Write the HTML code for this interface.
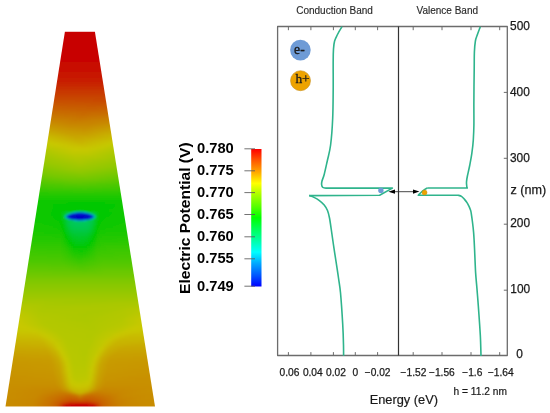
<!DOCTYPE html>
<html><head><meta charset="utf-8"><title>Electric potential and band diagram</title>
<style>
html,body{margin:0;padding:0;background:#fff;}
body{width:550px;height:413px;overflow:hidden;position:relative;}
svg{position:absolute;left:0;top:0;}
.s{font-family:"Liberation Sans",Arial,sans-serif;}
.sf{font-family:"Liberation Serif","Times New Roman",serif;}
</style></head><body>
<svg width="550" height="413" viewBox="0 0 550 413">
<!-- potential map -->
<defs><linearGradient id="g0" gradientUnits="userSpaceOnUse" x1="2" y1="0" x2="158" y2="0"><stop offset="0.000" stop-color="#c84000"/><stop offset="0.949" stop-color="#c83f00"/><stop offset="1.000" stop-color="#c84000"/></linearGradient><linearGradient id="g1" gradientUnits="userSpaceOnUse" x1="2" y1="0" x2="158" y2="0"><stop offset="0.000" stop-color="#c84500"/><stop offset="0.827" stop-color="#c84300"/><stop offset="1.000" stop-color="#c84500"/></linearGradient><linearGradient id="g2" gradientUnits="userSpaceOnUse" x1="2" y1="0" x2="158" y2="0"><stop offset="0.000" stop-color="#c84a00"/><stop offset="0.737" stop-color="#c84700"/><stop offset="1.000" stop-color="#c84a00"/></linearGradient><linearGradient id="g3" gradientUnits="userSpaceOnUse" x1="2" y1="0" x2="158" y2="0"><stop offset="0.000" stop-color="#c85000"/><stop offset="0.667" stop-color="#c84c00"/><stop offset="1.000" stop-color="#c85000"/></linearGradient><linearGradient id="g4" gradientUnits="userSpaceOnUse" x1="2" y1="0" x2="158" y2="0"><stop offset="0.000" stop-color="#c85600"/><stop offset="0.635" stop-color="#c85000"/><stop offset="1.000" stop-color="#c85600"/></linearGradient><linearGradient id="g5" gradientUnits="userSpaceOnUse" x1="2" y1="0" x2="158" y2="0"><stop offset="0.000" stop-color="#c85c00"/><stop offset="0.603" stop-color="#c85500"/><stop offset="1.000" stop-color="#c85c00"/></linearGradient><linearGradient id="g6" gradientUnits="userSpaceOnUse" x1="2" y1="0" x2="158" y2="0"><stop offset="0.000" stop-color="#c86300"/><stop offset="0.577" stop-color="#c85a00"/><stop offset="1.000" stop-color="#c86300"/></linearGradient><linearGradient id="g7" gradientUnits="userSpaceOnUse" x1="2" y1="0" x2="158" y2="0"><stop offset="0.000" stop-color="#c86900"/><stop offset="0.558" stop-color="#c85e00"/><stop offset="1.000" stop-color="#c86900"/></linearGradient><linearGradient id="g8" gradientUnits="userSpaceOnUse" x1="2" y1="0" x2="158" y2="0"><stop offset="0.000" stop-color="#c87000"/><stop offset="0.545" stop-color="#c86300"/><stop offset="1.000" stop-color="#c87000"/></linearGradient><linearGradient id="g9" gradientUnits="userSpaceOnUse" x1="2" y1="0" x2="158" y2="0"><stop offset="0.000" stop-color="#c87700"/><stop offset="0.526" stop-color="#c86800"/><stop offset="1.000" stop-color="#c87700"/></linearGradient><linearGradient id="g10" gradientUnits="userSpaceOnUse" x1="2" y1="0" x2="158" y2="0"><stop offset="0.000" stop-color="#c87f00"/><stop offset="0.519" stop-color="#c86c00"/><stop offset="1.000" stop-color="#c87f00"/></linearGradient><linearGradient id="g11" gradientUnits="userSpaceOnUse" x1="2" y1="0" x2="158" y2="0"><stop offset="0.000" stop-color="#c88700"/><stop offset="0.506" stop-color="#c87100"/><stop offset="1.000" stop-color="#c88700"/></linearGradient><linearGradient id="g12" gradientUnits="userSpaceOnUse" x1="2" y1="0" x2="158" y2="0"><stop offset="0.000" stop-color="#c88f00"/><stop offset="0.500" stop-color="#c87600"/><stop offset="1.000" stop-color="#c88f00"/></linearGradient><linearGradient id="g13" gradientUnits="userSpaceOnUse" x1="2" y1="0" x2="158" y2="0"><stop offset="0.000" stop-color="#c89700"/><stop offset="0.468" stop-color="#c87c00"/><stop offset="0.756" stop-color="#c88600"/><stop offset="1.000" stop-color="#c89700"/></linearGradient><linearGradient id="g14" gradientUnits="userSpaceOnUse" x1="2" y1="0" x2="158" y2="0"><stop offset="0.000" stop-color="#c8a000"/><stop offset="0.436" stop-color="#c88200"/><stop offset="0.577" stop-color="#c88300"/><stop offset="1.000" stop-color="#c8a000"/></linearGradient><linearGradient id="g15" gradientUnits="userSpaceOnUse" x1="2" y1="0" x2="158" y2="0"><stop offset="0.000" stop-color="#c8a900"/><stop offset="0.436" stop-color="#c88700"/><stop offset="0.564" stop-color="#c88700"/><stop offset="1.000" stop-color="#c8a900"/></linearGradient><linearGradient id="g16" gradientUnits="userSpaceOnUse" x1="2" y1="0" x2="158" y2="0"><stop offset="0.000" stop-color="#c8b200"/><stop offset="0.429" stop-color="#c88d00"/><stop offset="0.551" stop-color="#c88c00"/><stop offset="0.968" stop-color="#c8af00"/><stop offset="1.000" stop-color="#c8b200"/></linearGradient><linearGradient id="g17" gradientUnits="userSpaceOnUse" x1="2" y1="0" x2="158" y2="0"><stop offset="0.000" stop-color="#c8bc00"/><stop offset="0.404" stop-color="#c89400"/><stop offset="0.532" stop-color="#c89000"/><stop offset="0.904" stop-color="#c8b000"/><stop offset="1.000" stop-color="#c8bc00"/></linearGradient><linearGradient id="g18" gradientUnits="userSpaceOnUse" x1="2" y1="0" x2="158" y2="0"><stop offset="0.000" stop-color="#c8c500"/><stop offset="0.378" stop-color="#c89c00"/><stop offset="0.526" stop-color="#c89500"/><stop offset="0.865" stop-color="#c8b400"/><stop offset="1.000" stop-color="#c8c500"/></linearGradient><linearGradient id="g19" gradientUnits="userSpaceOnUse" x1="2" y1="0" x2="158" y2="0"><stop offset="0.000" stop-color="#c3c800"/><stop offset="0.077" stop-color="#c8c400"/><stop offset="0.417" stop-color="#c89e00"/><stop offset="0.532" stop-color="#c89b00"/><stop offset="0.846" stop-color="#c8ba00"/><stop offset="0.981" stop-color="#c5c800"/><stop offset="1.000" stop-color="#c3c800"/></linearGradient><linearGradient id="g20" gradientUnits="userSpaceOnUse" x1="2" y1="0" x2="158" y2="0"><stop offset="0.000" stop-color="#bcc800"/><stop offset="0.122" stop-color="#c8c600"/><stop offset="0.442" stop-color="#c8a200"/><stop offset="0.538" stop-color="#c8a100"/><stop offset="0.840" stop-color="#c8c000"/><stop offset="0.923" stop-color="#c5c800"/><stop offset="1.000" stop-color="#bcc800"/></linearGradient><linearGradient id="g21" gradientUnits="userSpaceOnUse" x1="2" y1="0" x2="158" y2="0"><stop offset="0.000" stop-color="#b4c800"/><stop offset="0.173" stop-color="#c8c600"/><stop offset="0.468" stop-color="#c8a600"/><stop offset="0.571" stop-color="#c8a900"/><stop offset="0.865" stop-color="#c5c800"/><stop offset="1.000" stop-color="#b4c800"/></linearGradient><linearGradient id="g22" gradientUnits="userSpaceOnUse" x1="2" y1="0" x2="158" y2="0"><stop offset="0.000" stop-color="#adc800"/><stop offset="0.224" stop-color="#c8c600"/><stop offset="0.487" stop-color="#c8aa00"/><stop offset="0.660" stop-color="#c8b700"/><stop offset="0.814" stop-color="#c6c800"/><stop offset="1.000" stop-color="#adc800"/></linearGradient><linearGradient id="g23" gradientUnits="userSpaceOnUse" x1="2" y1="0" x2="158" y2="0"><stop offset="0.000" stop-color="#a7c800"/><stop offset="0.269" stop-color="#c8c600"/><stop offset="0.500" stop-color="#c8af00"/><stop offset="0.763" stop-color="#c6c800"/><stop offset="1.000" stop-color="#a7c800"/></linearGradient><linearGradient id="g24" gradientUnits="userSpaceOnUse" x1="2" y1="0" x2="158" y2="0"><stop offset="0.000" stop-color="#a0c800"/><stop offset="0.314" stop-color="#c8c700"/><stop offset="0.506" stop-color="#c8b500"/><stop offset="0.718" stop-color="#c6c800"/><stop offset="1.000" stop-color="#a0c800"/></linearGradient><linearGradient id="g25" gradientUnits="userSpaceOnUse" x1="2" y1="0" x2="158" y2="0"><stop offset="0.000" stop-color="#9ac800"/><stop offset="0.346" stop-color="#c8c800"/><stop offset="0.513" stop-color="#c8bb00"/><stop offset="0.679" stop-color="#c5c800"/><stop offset="1.000" stop-color="#9ac800"/></linearGradient><linearGradient id="g26" gradientUnits="userSpaceOnUse" x1="2" y1="0" x2="158" y2="0"><stop offset="0.000" stop-color="#94c800"/><stop offset="0.308" stop-color="#bfc800"/><stop offset="0.429" stop-color="#c8c500"/><stop offset="0.526" stop-color="#c8c100"/><stop offset="0.641" stop-color="#c4c800"/><stop offset="0.968" stop-color="#9ac800"/><stop offset="1.000" stop-color="#94c800"/></linearGradient><linearGradient id="g27" gradientUnits="userSpaceOnUse" x1="2" y1="0" x2="158" y2="0"><stop offset="0.000" stop-color="#8dc800"/><stop offset="0.212" stop-color="#afc800"/><stop offset="0.468" stop-color="#c8c700"/><stop offset="0.596" stop-color="#c4c800"/><stop offset="0.923" stop-color="#9cc800"/><stop offset="1.000" stop-color="#8dc800"/></linearGradient><linearGradient id="g28" gradientUnits="userSpaceOnUse" x1="2" y1="0" x2="158" y2="0"><stop offset="0.000" stop-color="#86c800"/><stop offset="0.160" stop-color="#a3c800"/><stop offset="0.462" stop-color="#c4c800"/><stop offset="0.551" stop-color="#c3c800"/><stop offset="0.865" stop-color="#a0c800"/><stop offset="1.000" stop-color="#86c800"/></linearGradient><linearGradient id="g29" gradientUnits="userSpaceOnUse" x1="2" y1="0" x2="158" y2="0"><stop offset="0.000" stop-color="#80c800"/><stop offset="0.147" stop-color="#9dc800"/><stop offset="0.455" stop-color="#bfc800"/><stop offset="0.545" stop-color="#bfc800"/><stop offset="0.853" stop-color="#9dc800"/><stop offset="1.000" stop-color="#80c800"/></linearGradient><linearGradient id="g30" gradientUnits="userSpaceOnUse" x1="2" y1="0" x2="158" y2="0"><stop offset="0.000" stop-color="#7bc800"/><stop offset="0.160" stop-color="#9bc800"/><stop offset="0.462" stop-color="#bac800"/><stop offset="0.558" stop-color="#b9c800"/><stop offset="0.859" stop-color="#98c800"/><stop offset="1.000" stop-color="#7bc800"/></linearGradient><linearGradient id="g31" gradientUnits="userSpaceOnUse" x1="2" y1="0" x2="158" y2="0"><stop offset="0.000" stop-color="#76c800"/><stop offset="0.179" stop-color="#99c800"/><stop offset="0.474" stop-color="#b6c800"/><stop offset="0.615" stop-color="#b0c800"/><stop offset="0.878" stop-color="#90c800"/><stop offset="1.000" stop-color="#76c800"/></linearGradient><linearGradient id="g32" gradientUnits="userSpaceOnUse" x1="2" y1="0" x2="158" y2="0"><stop offset="0.000" stop-color="#72c800"/><stop offset="0.199" stop-color="#97c800"/><stop offset="0.481" stop-color="#b2c800"/><stop offset="0.660" stop-color="#a7c800"/><stop offset="0.872" stop-color="#8dc800"/><stop offset="1.000" stop-color="#72c800"/></linearGradient><linearGradient id="g33" gradientUnits="userSpaceOnUse" x1="2" y1="0" x2="158" y2="0"><stop offset="0.000" stop-color="#6fc800"/><stop offset="0.224" stop-color="#96c800"/><stop offset="0.494" stop-color="#adc800"/><stop offset="0.750" stop-color="#9ac800"/><stop offset="0.929" stop-color="#7dc800"/><stop offset="1.000" stop-color="#6fc800"/></linearGradient><linearGradient id="g34" gradientUnits="userSpaceOnUse" x1="2" y1="0" x2="158" y2="0"><stop offset="0.000" stop-color="#6bc800"/><stop offset="0.250" stop-color="#95c800"/><stop offset="0.500" stop-color="#a9c800"/><stop offset="0.756" stop-color="#94c800"/><stop offset="1.000" stop-color="#6bc800"/></linearGradient><linearGradient id="g35" gradientUnits="userSpaceOnUse" x1="2" y1="0" x2="158" y2="0"><stop offset="0.000" stop-color="#67c800"/><stop offset="0.263" stop-color="#92c800"/><stop offset="0.500" stop-color="#a4c800"/><stop offset="0.744" stop-color="#91c800"/><stop offset="1.000" stop-color="#67c800"/></linearGradient><linearGradient id="g36" gradientUnits="userSpaceOnUse" x1="2" y1="0" x2="158" y2="0"><stop offset="0.000" stop-color="#64c800"/><stop offset="0.244" stop-color="#8ac800"/><stop offset="0.487" stop-color="#9ec800"/><stop offset="0.705" stop-color="#91c800"/><stop offset="0.987" stop-color="#66c800"/><stop offset="1.000" stop-color="#64c800"/></linearGradient><linearGradient id="g37" gradientUnits="userSpaceOnUse" x1="2" y1="0" x2="158" y2="0"><stop offset="0.000" stop-color="#60c800"/><stop offset="0.218" stop-color="#81c800"/><stop offset="0.442" stop-color="#97c800"/><stop offset="0.551" stop-color="#97c800"/><stop offset="0.769" stop-color="#83c800"/><stop offset="0.994" stop-color="#62c800"/><stop offset="1.000" stop-color="#60c800"/></linearGradient><linearGradient id="g38" gradientUnits="userSpaceOnUse" x1="2" y1="0" x2="158" y2="0"><stop offset="0.000" stop-color="#5dc800"/><stop offset="0.231" stop-color="#7dc800"/><stop offset="0.487" stop-color="#93c800"/><stop offset="0.673" stop-color="#87c800"/><stop offset="0.949" stop-color="#66c800"/><stop offset="1.000" stop-color="#5dc800"/></linearGradient><linearGradient id="g39" gradientUnits="userSpaceOnUse" x1="2" y1="0" x2="158" y2="0"><stop offset="0.000" stop-color="#5ac800"/><stop offset="0.256" stop-color="#7ac800"/><stop offset="0.506" stop-color="#8cc800"/><stop offset="0.840" stop-color="#70c800"/><stop offset="1.000" stop-color="#5ac800"/></linearGradient><linearGradient id="g40" gradientUnits="userSpaceOnUse" x1="2" y1="0" x2="158" y2="0"><stop offset="0.000" stop-color="#56c800"/><stop offset="0.301" stop-color="#78c800"/><stop offset="0.519" stop-color="#83c800"/><stop offset="0.840" stop-color="#6ac800"/><stop offset="1.000" stop-color="#56c800"/></linearGradient><linearGradient id="g41" gradientUnits="userSpaceOnUse" x1="2" y1="0" x2="158" y2="0"><stop offset="0.000" stop-color="#52c800"/><stop offset="0.365" stop-color="#76c800"/><stop offset="0.532" stop-color="#7bc800"/><stop offset="0.821" stop-color="#66c800"/><stop offset="1.000" stop-color="#52c800"/></linearGradient><linearGradient id="g42" gradientUnits="userSpaceOnUse" x1="2" y1="0" x2="158" y2="0"><stop offset="0.000" stop-color="#4ec800"/><stop offset="0.423" stop-color="#71c800"/><stop offset="0.564" stop-color="#72c800"/><stop offset="0.981" stop-color="#50c800"/><stop offset="1.000" stop-color="#4ec800"/></linearGradient><linearGradient id="g43" gradientUnits="userSpaceOnUse" x1="2" y1="0" x2="158" y2="0"><stop offset="0.000" stop-color="#49c800"/><stop offset="0.455" stop-color="#69c800"/><stop offset="0.615" stop-color="#66c800"/><stop offset="1.000" stop-color="#49c800"/></linearGradient><linearGradient id="g44" gradientUnits="userSpaceOnUse" x1="2" y1="0" x2="158" y2="0"><stop offset="0.000" stop-color="#44c800"/><stop offset="0.487" stop-color="#60c800"/><stop offset="0.872" stop-color="#4dc800"/><stop offset="1.000" stop-color="#44c800"/></linearGradient><linearGradient id="g45" gradientUnits="userSpaceOnUse" x1="2" y1="0" x2="158" y2="0"><stop offset="0.000" stop-color="#3fc800"/><stop offset="0.506" stop-color="#56c800"/><stop offset="1.000" stop-color="#3fc800"/></linearGradient><linearGradient id="g46" gradientUnits="userSpaceOnUse" x1="2" y1="0" x2="158" y2="0"><stop offset="0.000" stop-color="#3ac800"/><stop offset="0.519" stop-color="#4cc800"/><stop offset="1.000" stop-color="#3ac800"/></linearGradient><linearGradient id="g47" gradientUnits="userSpaceOnUse" x1="2" y1="0" x2="158" y2="0"><stop offset="0.000" stop-color="#34c800"/><stop offset="0.526" stop-color="#42c800"/><stop offset="1.000" stop-color="#34c800"/></linearGradient><linearGradient id="g48" gradientUnits="userSpaceOnUse" x1="2" y1="0" x2="158" y2="0"><stop offset="0.000" stop-color="#2ec800"/><stop offset="0.532" stop-color="#38c800"/><stop offset="1.000" stop-color="#2ec800"/></linearGradient><linearGradient id="g49" gradientUnits="userSpaceOnUse" x1="2" y1="0" x2="158" y2="0"><stop offset="0.000" stop-color="#27c800"/><stop offset="0.545" stop-color="#2ec800"/><stop offset="1.000" stop-color="#27c800"/></linearGradient><linearGradient id="g50" gradientUnits="userSpaceOnUse" x1="2" y1="0" x2="158" y2="0"><stop offset="0.000" stop-color="#21c800"/><stop offset="0.840" stop-color="#23c800"/><stop offset="1.000" stop-color="#21c800"/></linearGradient><linearGradient id="g51" gradientUnits="userSpaceOnUse" x1="2" y1="0" x2="158" y2="0"><stop offset="0.000" stop-color="#17c800"/><stop offset="0.397" stop-color="#15c800"/><stop offset="0.699" stop-color="#17c800"/><stop offset="1.000" stop-color="#17c800"/></linearGradient><linearGradient id="g52" gradientUnits="userSpaceOnUse" x1="2" y1="0" x2="158" y2="0"><stop offset="0.000" stop-color="#12c800"/><stop offset="0.359" stop-color="#0fc800"/><stop offset="0.590" stop-color="#0dc800"/><stop offset="0.923" stop-color="#13c800"/><stop offset="1.000" stop-color="#12c800"/></linearGradient><linearGradient id="g53" gradientUnits="userSpaceOnUse" x1="2" y1="0" x2="158" y2="0"><stop offset="0.000" stop-color="#0dc800"/><stop offset="0.333" stop-color="#09c800"/><stop offset="0.551" stop-color="#03c800"/><stop offset="0.872" stop-color="#0dc800"/><stop offset="1.000" stop-color="#0dc800"/></linearGradient><linearGradient id="g54" gradientUnits="userSpaceOnUse" x1="2" y1="0" x2="158" y2="0"><stop offset="0.000" stop-color="#0dc800"/><stop offset="0.314" stop-color="#07c800"/><stop offset="0.481" stop-color="#00c802"/><stop offset="0.647" stop-color="#04c800"/><stop offset="0.910" stop-color="#0dc800"/><stop offset="1.000" stop-color="#0dc800"/></linearGradient><linearGradient id="g55" gradientUnits="userSpaceOnUse" x1="2" y1="0" x2="158" y2="0"><stop offset="0.000" stop-color="#0dc800"/><stop offset="0.301" stop-color="#08c800"/><stop offset="0.455" stop-color="#00c803"/><stop offset="0.641" stop-color="#03c800"/><stop offset="0.885" stop-color="#0dc800"/><stop offset="1.000" stop-color="#0dc800"/></linearGradient><linearGradient id="g56" gradientUnits="userSpaceOnUse" x1="2" y1="0" x2="158" y2="0"><stop offset="0.000" stop-color="#0ec800"/><stop offset="0.295" stop-color="#08c800"/><stop offset="0.449" stop-color="#00c803"/><stop offset="0.596" stop-color="#00c800"/><stop offset="0.846" stop-color="#0dc800"/><stop offset="1.000" stop-color="#0ec800"/></linearGradient><linearGradient id="g57" gradientUnits="userSpaceOnUse" x1="2" y1="0" x2="158" y2="0"><stop offset="0.000" stop-color="#0ec800"/><stop offset="0.288" stop-color="#09c800"/><stop offset="0.436" stop-color="#00c803"/><stop offset="0.577" stop-color="#00c802"/><stop offset="0.865" stop-color="#0ec800"/><stop offset="1.000" stop-color="#0ec800"/></linearGradient><linearGradient id="g58" gradientUnits="userSpaceOnUse" x1="2" y1="0" x2="158" y2="0"><stop offset="0.000" stop-color="#0fc800"/><stop offset="0.282" stop-color="#09c800"/><stop offset="0.429" stop-color="#00c803"/><stop offset="0.564" stop-color="#00c803"/><stop offset="0.686" stop-color="#07c800"/><stop offset="0.923" stop-color="#0fc800"/><stop offset="1.000" stop-color="#0fc800"/></linearGradient><linearGradient id="g59" gradientUnits="userSpaceOnUse" x1="2" y1="0" x2="158" y2="0"><stop offset="0.000" stop-color="#0fc800"/><stop offset="0.282" stop-color="#09c800"/><stop offset="0.429" stop-color="#00c803"/><stop offset="0.564" stop-color="#00c804"/><stop offset="0.679" stop-color="#06c800"/><stop offset="0.904" stop-color="#0fc800"/><stop offset="1.000" stop-color="#0fc800"/></linearGradient><linearGradient id="g60" gradientUnits="userSpaceOnUse" x1="2" y1="0" x2="158" y2="0"><stop offset="0.000" stop-color="#10c800"/><stop offset="0.276" stop-color="#0ac800"/><stop offset="0.423" stop-color="#00c803"/><stop offset="0.449" stop-color="#00c805"/><stop offset="0.455" stop-color="#0ec800"/><stop offset="0.462" stop-color="#00c800"/><stop offset="0.481" stop-color="#00c83a"/><stop offset="0.487" stop-color="#00c849"/><stop offset="0.494" stop-color="#00c852"/><stop offset="0.500" stop-color="#00c856"/><stop offset="0.506" stop-color="#00c853"/><stop offset="0.513" stop-color="#00c84b"/><stop offset="0.526" stop-color="#00c82c"/><stop offset="0.538" stop-color="#00c803"/><stop offset="0.545" stop-color="#0cc800"/><stop offset="0.551" stop-color="#00c805"/><stop offset="0.660" stop-color="#05c800"/><stop offset="0.865" stop-color="#0fc800"/><stop offset="1.000" stop-color="#10c800"/></linearGradient><linearGradient id="g61" gradientUnits="userSpaceOnUse" x1="2" y1="0" x2="158" y2="0"><stop offset="0.000" stop-color="#10c800"/><stop offset="0.276" stop-color="#0ac800"/><stop offset="0.372" stop-color="#00c802"/><stop offset="0.391" stop-color="#00c818"/><stop offset="0.423" stop-color="#00c84f"/><stop offset="0.429" stop-color="#00c856"/><stop offset="0.436" stop-color="#00c800"/><stop offset="0.442" stop-color="#00c827"/><stop offset="0.462" stop-color="#00c8b1"/><stop offset="0.468" stop-color="#00bac8"/><stop offset="0.474" stop-color="#009cc8"/><stop offset="0.481" stop-color="#0085c8"/><stop offset="0.487" stop-color="#0076c8"/><stop offset="0.494" stop-color="#006dc8"/><stop offset="0.500" stop-color="#006ac8"/><stop offset="0.506" stop-color="#006cc8"/><stop offset="0.513" stop-color="#0074c8"/><stop offset="0.519" stop-color="#0082c8"/><stop offset="0.526" stop-color="#0097c8"/><stop offset="0.532" stop-color="#00b3c8"/><stop offset="0.538" stop-color="#00c8b9"/><stop offset="0.551" stop-color="#00c85f"/><stop offset="0.558" stop-color="#00c82f"/><stop offset="0.564" stop-color="#00c807"/><stop offset="0.571" stop-color="#10c800"/><stop offset="0.577" stop-color="#00c850"/><stop offset="0.603" stop-color="#00c825"/><stop offset="0.622" stop-color="#00c808"/><stop offset="0.635" stop-color="#00c800"/><stop offset="0.788" stop-color="#0ec800"/><stop offset="1.000" stop-color="#10c800"/></linearGradient><linearGradient id="g62" gradientUnits="userSpaceOnUse" x1="2" y1="0" x2="158" y2="0"><stop offset="0.000" stop-color="#11c800"/><stop offset="0.276" stop-color="#0bc800"/><stop offset="0.372" stop-color="#00c802"/><stop offset="0.391" stop-color="#00c818"/><stop offset="0.410" stop-color="#00c83b"/><stop offset="0.417" stop-color="#0bc800"/><stop offset="0.423" stop-color="#00c81f"/><stop offset="0.429" stop-color="#00c85e"/><stop offset="0.436" stop-color="#00c8a3"/><stop offset="0.442" stop-color="#00adc8"/><stop offset="0.449" stop-color="#0078c8"/><stop offset="0.455" stop-color="#004fc8"/><stop offset="0.462" stop-color="#0034c8"/><stop offset="0.468" stop-color="#0024c8"/><stop offset="0.474" stop-color="#001dc8"/><stop offset="0.513" stop-color="#001ac8"/><stop offset="0.526" stop-color="#001dc8"/><stop offset="0.532" stop-color="#0022c8"/><stop offset="0.538" stop-color="#0030c8"/><stop offset="0.545" stop-color="#0049c8"/><stop offset="0.551" stop-color="#006fc8"/><stop offset="0.558" stop-color="#00a2c8"/><stop offset="0.564" stop-color="#00c8b1"/><stop offset="0.577" stop-color="#00c82b"/><stop offset="0.583" stop-color="#05c800"/><stop offset="0.590" stop-color="#00c83d"/><stop offset="0.615" stop-color="#00c810"/><stop offset="0.635" stop-color="#00c800"/><stop offset="0.788" stop-color="#0ec800"/><stop offset="1.000" stop-color="#11c800"/></linearGradient><linearGradient id="g63" gradientUnits="userSpaceOnUse" x1="2" y1="0" x2="158" y2="0"><stop offset="0.000" stop-color="#11c800"/><stop offset="0.269" stop-color="#0cc800"/><stop offset="0.372" stop-color="#00c802"/><stop offset="0.391" stop-color="#00c817"/><stop offset="0.397" stop-color="#00c823"/><stop offset="0.404" stop-color="#0dc800"/><stop offset="0.410" stop-color="#00c823"/><stop offset="0.417" stop-color="#00c871"/><stop offset="0.423" stop-color="#00c8c4"/><stop offset="0.429" stop-color="#0082c8"/><stop offset="0.436" stop-color="#0049c8"/><stop offset="0.442" stop-color="#0027c8"/><stop offset="0.449" stop-color="#001cc8"/><stop offset="0.494" stop-color="#000fc8"/><stop offset="0.538" stop-color="#0015c8"/><stop offset="0.551" stop-color="#001bc8"/><stop offset="0.558" stop-color="#0023c8"/><stop offset="0.564" stop-color="#0041c8"/><stop offset="0.571" stop-color="#0075c8"/><stop offset="0.577" stop-color="#00bcc8"/><stop offset="0.583" stop-color="#00c881"/><stop offset="0.590" stop-color="#00c831"/><stop offset="0.596" stop-color="#07c800"/><stop offset="0.603" stop-color="#00c825"/><stop offset="0.622" stop-color="#00c808"/><stop offset="0.635" stop-color="#01c800"/><stop offset="0.788" stop-color="#0fc800"/><stop offset="1.000" stop-color="#11c800"/></linearGradient><linearGradient id="g64" gradientUnits="userSpaceOnUse" x1="2" y1="0" x2="158" y2="0"><stop offset="0.000" stop-color="#12c800"/><stop offset="0.269" stop-color="#0cc800"/><stop offset="0.372" stop-color="#00c801"/><stop offset="0.391" stop-color="#00c817"/><stop offset="0.397" stop-color="#00c804"/><stop offset="0.404" stop-color="#00c84f"/><stop offset="0.410" stop-color="#00c8ad"/><stop offset="0.417" stop-color="#008ac8"/><stop offset="0.423" stop-color="#0047c8"/><stop offset="0.429" stop-color="#0022c8"/><stop offset="0.442" stop-color="#0016c8"/><stop offset="0.487" stop-color="#0006c8"/><stop offset="0.532" stop-color="#000ac8"/><stop offset="0.571" stop-color="#001ec8"/><stop offset="0.577" stop-color="#003dc8"/><stop offset="0.583" stop-color="#007ac8"/><stop offset="0.590" stop-color="#00c8c0"/><stop offset="0.596" stop-color="#00c861"/><stop offset="0.603" stop-color="#00c810"/><stop offset="0.609" stop-color="#00c819"/><stop offset="0.628" stop-color="#00c802"/><stop offset="0.769" stop-color="#0ec800"/><stop offset="1.000" stop-color="#12c800"/></linearGradient><linearGradient id="g65" gradientUnits="userSpaceOnUse" x1="2" y1="0" x2="158" y2="0"><stop offset="0.000" stop-color="#12c800"/><stop offset="0.269" stop-color="#0dc800"/><stop offset="0.365" stop-color="#02c800"/><stop offset="0.378" stop-color="#00c806"/><stop offset="0.385" stop-color="#00c80d"/><stop offset="0.391" stop-color="#09c800"/><stop offset="0.397" stop-color="#00c83a"/><stop offset="0.404" stop-color="#00c89c"/><stop offset="0.410" stop-color="#0094c8"/><stop offset="0.417" stop-color="#0049c8"/><stop offset="0.423" stop-color="#0021c8"/><stop offset="0.442" stop-color="#0011c8"/><stop offset="0.487" stop-color="#0001c8"/><stop offset="0.532" stop-color="#0005c8"/><stop offset="0.571" stop-color="#0018c8"/><stop offset="0.577" stop-color="#001ec8"/><stop offset="0.583" stop-color="#003ec8"/><stop offset="0.590" stop-color="#0082c8"/><stop offset="0.596" stop-color="#00c8b0"/><stop offset="0.603" stop-color="#00c84d"/><stop offset="0.609" stop-color="#00c800"/><stop offset="0.615" stop-color="#00c80f"/><stop offset="0.628" stop-color="#00c802"/><stop offset="0.737" stop-color="#0dc800"/><stop offset="1.000" stop-color="#12c800"/></linearGradient><linearGradient id="g66" gradientUnits="userSpaceOnUse" x1="2" y1="0" x2="158" y2="0"><stop offset="0.000" stop-color="#13c800"/><stop offset="0.269" stop-color="#0dc800"/><stop offset="0.365" stop-color="#03c800"/><stop offset="0.378" stop-color="#00c805"/><stop offset="0.385" stop-color="#00c80c"/><stop offset="0.391" stop-color="#12c800"/><stop offset="0.397" stop-color="#00c81c"/><stop offset="0.404" stop-color="#00c874"/><stop offset="0.410" stop-color="#00bbc8"/><stop offset="0.417" stop-color="#0067c8"/><stop offset="0.423" stop-color="#002fc8"/><stop offset="0.429" stop-color="#001cc8"/><stop offset="0.474" stop-color="#0006c8"/><stop offset="0.519" stop-color="#0004c8"/><stop offset="0.564" stop-color="#0017c8"/><stop offset="0.571" stop-color="#001bc8"/><stop offset="0.577" stop-color="#0029c8"/><stop offset="0.583" stop-color="#0059c8"/><stop offset="0.590" stop-color="#00a8c8"/><stop offset="0.596" stop-color="#00c888"/><stop offset="0.603" stop-color="#00c82b"/><stop offset="0.609" stop-color="#0ec800"/><stop offset="0.615" stop-color="#00c80e"/><stop offset="0.628" stop-color="#00c801"/><stop offset="0.699" stop-color="#0bc800"/><stop offset="0.923" stop-color="#13c800"/><stop offset="1.000" stop-color="#13c800"/></linearGradient><linearGradient id="g67" gradientUnits="userSpaceOnUse" x1="2" y1="0" x2="158" y2="0"><stop offset="0.000" stop-color="#13c800"/><stop offset="0.276" stop-color="#0dc800"/><stop offset="0.365" stop-color="#03c800"/><stop offset="0.378" stop-color="#00c804"/><stop offset="0.391" stop-color="#00c815"/><stop offset="0.397" stop-color="#13c800"/><stop offset="0.404" stop-color="#00c815"/><stop offset="0.410" stop-color="#00c865"/><stop offset="0.417" stop-color="#00c8bf"/><stop offset="0.423" stop-color="#0080c8"/><stop offset="0.429" stop-color="#0044c8"/><stop offset="0.436" stop-color="#0022c8"/><stop offset="0.449" stop-color="#0017c8"/><stop offset="0.494" stop-color="#000ac8"/><stop offset="0.538" stop-color="#0011c8"/><stop offset="0.564" stop-color="#001fc8"/><stop offset="0.571" stop-color="#003bc8"/><stop offset="0.577" stop-color="#0072c8"/><stop offset="0.583" stop-color="#00c0c8"/><stop offset="0.590" stop-color="#00c877"/><stop offset="0.596" stop-color="#00c823"/><stop offset="0.603" stop-color="#10c800"/><stop offset="0.609" stop-color="#00c817"/><stop offset="0.628" stop-color="#00c800"/><stop offset="0.673" stop-color="#09c800"/><stop offset="0.878" stop-color="#13c800"/><stop offset="1.000" stop-color="#13c800"/></linearGradient><linearGradient id="g68" gradientUnits="userSpaceOnUse" x1="2" y1="0" x2="158" y2="0"><stop offset="0.000" stop-color="#14c800"/><stop offset="0.276" stop-color="#0ec800"/><stop offset="0.365" stop-color="#04c800"/><stop offset="0.378" stop-color="#00c803"/><stop offset="0.397" stop-color="#00c81f"/><stop offset="0.404" stop-color="#00c82b"/><stop offset="0.410" stop-color="#13c800"/><stop offset="0.417" stop-color="#00c80f"/><stop offset="0.423" stop-color="#00c850"/><stop offset="0.429" stop-color="#00c89a"/><stop offset="0.436" stop-color="#00afc8"/><stop offset="0.442" stop-color="#0073c8"/><stop offset="0.449" stop-color="#0047c8"/><stop offset="0.455" stop-color="#002bc8"/><stop offset="0.462" stop-color="#001ec8"/><stop offset="0.500" stop-color="#0016c8"/><stop offset="0.538" stop-color="#001dc8"/><stop offset="0.545" stop-color="#0027c8"/><stop offset="0.551" stop-color="#0040c8"/><stop offset="0.558" stop-color="#0069c8"/><stop offset="0.564" stop-color="#00a2c8"/><stop offset="0.571" stop-color="#00c8a9"/><stop offset="0.577" stop-color="#00c85e"/><stop offset="0.583" stop-color="#00c81a"/><stop offset="0.590" stop-color="#10c800"/><stop offset="0.596" stop-color="#00c82e"/><stop offset="0.615" stop-color="#00c80c"/><stop offset="0.628" stop-color="#01c800"/><stop offset="0.667" stop-color="#09c800"/><stop offset="0.872" stop-color="#13c800"/><stop offset="1.000" stop-color="#14c800"/></linearGradient><linearGradient id="g69" gradientUnits="userSpaceOnUse" x1="2" y1="0" x2="158" y2="0"><stop offset="0.000" stop-color="#14c800"/><stop offset="0.276" stop-color="#0fc800"/><stop offset="0.365" stop-color="#05c800"/><stop offset="0.378" stop-color="#00c802"/><stop offset="0.397" stop-color="#00c81e"/><stop offset="0.423" stop-color="#00c849"/><stop offset="0.429" stop-color="#00c850"/><stop offset="0.436" stop-color="#0cc800"/><stop offset="0.442" stop-color="#00c814"/><stop offset="0.462" stop-color="#00c899"/><stop offset="0.468" stop-color="#00c8bf"/><stop offset="0.474" stop-color="#00b2c8"/><stop offset="0.481" stop-color="#009bc8"/><stop offset="0.487" stop-color="#008ac8"/><stop offset="0.494" stop-color="#0081c8"/><stop offset="0.500" stop-color="#007dc8"/><stop offset="0.506" stop-color="#0080c8"/><stop offset="0.513" stop-color="#0088c8"/><stop offset="0.519" stop-color="#0097c8"/><stop offset="0.526" stop-color="#00adc8"/><stop offset="0.532" stop-color="#00c8c6"/><stop offset="0.538" stop-color="#00c8a2"/><stop offset="0.558" stop-color="#00c81c"/><stop offset="0.564" stop-color="#07c800"/><stop offset="0.571" stop-color="#00c852"/><stop offset="0.590" stop-color="#00c838"/><stop offset="0.615" stop-color="#00c80b"/><stop offset="0.628" stop-color="#02c800"/><stop offset="0.667" stop-color="#0ac800"/><stop offset="0.878" stop-color="#14c800"/><stop offset="1.000" stop-color="#14c800"/></linearGradient><linearGradient id="g70" gradientUnits="userSpaceOnUse" x1="2" y1="0" x2="158" y2="0"><stop offset="0.000" stop-color="#15c800"/><stop offset="0.282" stop-color="#0fc800"/><stop offset="0.365" stop-color="#07c800"/><stop offset="0.378" stop-color="#00c801"/><stop offset="0.397" stop-color="#00c81c"/><stop offset="0.423" stop-color="#00c847"/><stop offset="0.442" stop-color="#00c858"/><stop offset="0.481" stop-color="#00c860"/><stop offset="0.545" stop-color="#00c85d"/><stop offset="0.571" stop-color="#00c850"/><stop offset="0.590" stop-color="#00c836"/><stop offset="0.615" stop-color="#00c809"/><stop offset="0.622" stop-color="#00c802"/><stop offset="0.654" stop-color="#0ac800"/><stop offset="0.865" stop-color="#14c800"/><stop offset="1.000" stop-color="#15c800"/></linearGradient><linearGradient id="g71" gradientUnits="userSpaceOnUse" x1="2" y1="0" x2="158" y2="0"><stop offset="0.000" stop-color="#16c800"/><stop offset="0.282" stop-color="#10c800"/><stop offset="0.365" stop-color="#08c800"/><stop offset="0.378" stop-color="#01c800"/><stop offset="0.391" stop-color="#00c80f"/><stop offset="0.423" stop-color="#00c845"/><stop offset="0.442" stop-color="#00c856"/><stop offset="0.481" stop-color="#00c85e"/><stop offset="0.545" stop-color="#00c85b"/><stop offset="0.571" stop-color="#00c84d"/><stop offset="0.590" stop-color="#00c833"/><stop offset="0.615" stop-color="#00c808"/><stop offset="0.622" stop-color="#00c800"/><stop offset="0.647" stop-color="#0ac800"/><stop offset="0.859" stop-color="#15c800"/><stop offset="1.000" stop-color="#16c800"/></linearGradient><linearGradient id="g72" gradientUnits="userSpaceOnUse" x1="2" y1="0" x2="158" y2="0"><stop offset="0.000" stop-color="#16c800"/><stop offset="0.288" stop-color="#11c800"/><stop offset="0.365" stop-color="#09c800"/><stop offset="0.378" stop-color="#02c800"/><stop offset="0.391" stop-color="#00c80d"/><stop offset="0.423" stop-color="#00c842"/><stop offset="0.442" stop-color="#00c853"/><stop offset="0.481" stop-color="#00c85c"/><stop offset="0.545" stop-color="#00c859"/><stop offset="0.571" stop-color="#00c84b"/><stop offset="0.590" stop-color="#00c831"/><stop offset="0.615" stop-color="#00c806"/><stop offset="0.622" stop-color="#01c800"/><stop offset="0.641" stop-color="#0ac800"/><stop offset="0.846" stop-color="#16c800"/><stop offset="1.000" stop-color="#16c800"/></linearGradient><linearGradient id="g73" gradientUnits="userSpaceOnUse" x1="2" y1="0" x2="158" y2="0"><stop offset="0.000" stop-color="#17c800"/><stop offset="0.295" stop-color="#11c800"/><stop offset="0.372" stop-color="#08c800"/><stop offset="0.385" stop-color="#00c802"/><stop offset="0.423" stop-color="#00c83f"/><stop offset="0.442" stop-color="#00c851"/><stop offset="0.481" stop-color="#00c85a"/><stop offset="0.545" stop-color="#00c856"/><stop offset="0.571" stop-color="#00c848"/><stop offset="0.590" stop-color="#00c82e"/><stop offset="0.615" stop-color="#00c804"/><stop offset="0.628" stop-color="#08c800"/><stop offset="0.686" stop-color="#10c800"/><stop offset="0.949" stop-color="#17c800"/><stop offset="1.000" stop-color="#17c800"/></linearGradient><linearGradient id="g74" gradientUnits="userSpaceOnUse" x1="2" y1="0" x2="158" y2="0"><stop offset="0.000" stop-color="#18c800"/><stop offset="0.301" stop-color="#12c800"/><stop offset="0.372" stop-color="#0ac800"/><stop offset="0.385" stop-color="#00c800"/><stop offset="0.423" stop-color="#00c83c"/><stop offset="0.442" stop-color="#00c84e"/><stop offset="0.481" stop-color="#00c857"/><stop offset="0.545" stop-color="#00c854"/><stop offset="0.571" stop-color="#00c845"/><stop offset="0.590" stop-color="#00c82b"/><stop offset="0.615" stop-color="#00c802"/><stop offset="0.635" stop-color="#0cc800"/><stop offset="0.827" stop-color="#17c800"/><stop offset="1.000" stop-color="#18c800"/></linearGradient><linearGradient id="g75" gradientUnits="userSpaceOnUse" x1="2" y1="0" x2="158" y2="0"><stop offset="0.000" stop-color="#19c800"/><stop offset="0.314" stop-color="#13c800"/><stop offset="0.372" stop-color="#0cc800"/><stop offset="0.385" stop-color="#03c800"/><stop offset="0.397" stop-color="#00c80f"/><stop offset="0.423" stop-color="#00c837"/><stop offset="0.442" stop-color="#00c849"/><stop offset="0.474" stop-color="#00c852"/><stop offset="0.538" stop-color="#00c851"/><stop offset="0.564" stop-color="#00c846"/><stop offset="0.583" stop-color="#00c830"/><stop offset="0.609" stop-color="#00c807"/><stop offset="0.615" stop-color="#01c800"/><stop offset="0.635" stop-color="#0ec800"/><stop offset="0.846" stop-color="#18c800"/><stop offset="1.000" stop-color="#19c800"/></linearGradient><linearGradient id="g76" gradientUnits="userSpaceOnUse" x1="2" y1="0" x2="158" y2="0"><stop offset="0.000" stop-color="#1ac800"/><stop offset="0.333" stop-color="#14c800"/><stop offset="0.372" stop-color="#10c800"/><stop offset="0.391" stop-color="#00c800"/><stop offset="0.429" stop-color="#00c837"/><stop offset="0.455" stop-color="#00c848"/><stop offset="0.513" stop-color="#00c84d"/><stop offset="0.551" stop-color="#00c846"/><stop offset="0.571" stop-color="#00c839"/><stop offset="0.596" stop-color="#00c815"/><stop offset="0.609" stop-color="#00c802"/><stop offset="0.628" stop-color="#0fc800"/><stop offset="0.737" stop-color="#17c800"/><stop offset="1.000" stop-color="#1ac800"/></linearGradient><linearGradient id="g77" gradientUnits="userSpaceOnUse" x1="2" y1="0" x2="158" y2="0"><stop offset="0.000" stop-color="#1bc800"/><stop offset="0.353" stop-color="#16c800"/><stop offset="0.378" stop-color="#10c800"/><stop offset="0.397" stop-color="#00c803"/><stop offset="0.429" stop-color="#00c82f"/><stop offset="0.455" stop-color="#00c841"/><stop offset="0.506" stop-color="#00c846"/><stop offset="0.545" stop-color="#00c841"/><stop offset="0.571" stop-color="#00c831"/><stop offset="0.603" stop-color="#00c805"/><stop offset="0.615" stop-color="#0ac800"/><stop offset="0.635" stop-color="#14c800"/><stop offset="0.923" stop-color="#1bc800"/><stop offset="1.000" stop-color="#1bc800"/></linearGradient><linearGradient id="g78" gradientUnits="userSpaceOnUse" x1="2" y1="0" x2="158" y2="0"><stop offset="0.000" stop-color="#1ec800"/><stop offset="0.365" stop-color="#18c800"/><stop offset="0.385" stop-color="#11c800"/><stop offset="0.397" stop-color="#04c800"/><stop offset="0.410" stop-color="#00c80e"/><stop offset="0.436" stop-color="#00c82c"/><stop offset="0.462" stop-color="#00c83a"/><stop offset="0.526" stop-color="#00c83c"/><stop offset="0.558" stop-color="#00c832"/><stop offset="0.583" stop-color="#00c818"/><stop offset="0.603" stop-color="#02c800"/><stop offset="0.622" stop-color="#14c800"/><stop offset="0.667" stop-color="#1ac800"/><stop offset="1.000" stop-color="#1ec800"/></linearGradient><linearGradient id="g79" gradientUnits="userSpaceOnUse" x1="2" y1="0" x2="158" y2="0"><stop offset="0.000" stop-color="#21c800"/><stop offset="0.372" stop-color="#1bc800"/><stop offset="0.391" stop-color="#11c800"/><stop offset="0.404" stop-color="#04c800"/><stop offset="0.423" stop-color="#00c815"/><stop offset="0.449" stop-color="#00c82a"/><stop offset="0.487" stop-color="#00c833"/><stop offset="0.538" stop-color="#00c830"/><stop offset="0.564" stop-color="#00c822"/><stop offset="0.596" stop-color="#02c800"/><stop offset="0.615" stop-color="#15c800"/><stop offset="0.641" stop-color="#1dc800"/><stop offset="1.000" stop-color="#21c800"/></linearGradient><linearGradient id="g80" gradientUnits="userSpaceOnUse" x1="2" y1="0" x2="158" y2="0"><stop offset="0.000" stop-color="#24c800"/><stop offset="0.372" stop-color="#1fc800"/><stop offset="0.391" stop-color="#17c800"/><stop offset="0.410" stop-color="#03c800"/><stop offset="0.449" stop-color="#00c822"/><stop offset="0.481" stop-color="#00c82c"/><stop offset="0.538" stop-color="#00c828"/><stop offset="0.564" stop-color="#00c81a"/><stop offset="0.590" stop-color="#01c800"/><stop offset="0.615" stop-color="#1ac800"/><stop offset="0.647" stop-color="#21c800"/><stop offset="1.000" stop-color="#24c800"/></linearGradient><linearGradient id="g81" gradientUnits="userSpaceOnUse" x1="2" y1="0" x2="158" y2="0"><stop offset="0.000" stop-color="#27c800"/><stop offset="0.372" stop-color="#23c800"/><stop offset="0.397" stop-color="#17c800"/><stop offset="0.417" stop-color="#03c800"/><stop offset="0.455" stop-color="#00c81e"/><stop offset="0.494" stop-color="#00c826"/><stop offset="0.538" stop-color="#00c821"/><stop offset="0.571" stop-color="#00c80c"/><stop offset="0.583" stop-color="#01c800"/><stop offset="0.609" stop-color="#1bc800"/><stop offset="0.635" stop-color="#24c800"/><stop offset="1.000" stop-color="#27c800"/></linearGradient><linearGradient id="g82" gradientUnits="userSpaceOnUse" x1="2" y1="0" x2="158" y2="0"><stop offset="0.000" stop-color="#2ac800"/><stop offset="0.372" stop-color="#27c800"/><stop offset="0.397" stop-color="#1cc800"/><stop offset="0.429" stop-color="#00c803"/><stop offset="0.462" stop-color="#00c818"/><stop offset="0.506" stop-color="#00c81e"/><stop offset="0.545" stop-color="#00c816"/><stop offset="0.577" stop-color="#02c800"/><stop offset="0.609" stop-color="#1fc800"/><stop offset="0.641" stop-color="#28c800"/><stop offset="1.000" stop-color="#2ac800"/></linearGradient><linearGradient id="g83" gradientUnits="userSpaceOnUse" x1="2" y1="0" x2="158" y2="0"><stop offset="0.000" stop-color="#2dc800"/><stop offset="0.372" stop-color="#2ac800"/><stop offset="0.397" stop-color="#21c800"/><stop offset="0.436" stop-color="#00c800"/><stop offset="0.468" stop-color="#00c812"/><stop offset="0.513" stop-color="#00c816"/><stop offset="0.545" stop-color="#00c80d"/><stop offset="0.564" stop-color="#00c801"/><stop offset="0.609" stop-color="#24c800"/><stop offset="0.647" stop-color="#2cc800"/><stop offset="1.000" stop-color="#2dc800"/></linearGradient><linearGradient id="g84" gradientUnits="userSpaceOnUse" x1="2" y1="0" x2="158" y2="0"><stop offset="0.000" stop-color="#31c800"/><stop offset="0.372" stop-color="#2ec800"/><stop offset="0.404" stop-color="#22c800"/><stop offset="0.449" stop-color="#00c801"/><stop offset="0.481" stop-color="#00c80d"/><stop offset="0.526" stop-color="#00c80c"/><stop offset="0.558" stop-color="#03c800"/><stop offset="0.609" stop-color="#29c800"/><stop offset="0.660" stop-color="#30c800"/><stop offset="1.000" stop-color="#31c800"/></linearGradient><linearGradient id="g85" gradientUnits="userSpaceOnUse" x1="2" y1="0" x2="158" y2="0"><stop offset="0.000" stop-color="#35c800"/><stop offset="0.372" stop-color="#32c800"/><stop offset="0.404" stop-color="#28c800"/><stop offset="0.462" stop-color="#03c800"/><stop offset="0.519" stop-color="#00c803"/><stop offset="0.545" stop-color="#05c800"/><stop offset="0.609" stop-color="#2dc800"/><stop offset="0.673" stop-color="#34c800"/><stop offset="1.000" stop-color="#35c800"/></linearGradient><linearGradient id="g86" gradientUnits="userSpaceOnUse" x1="2" y1="0" x2="158" y2="0"><stop offset="0.000" stop-color="#38c800"/><stop offset="0.372" stop-color="#36c800"/><stop offset="0.410" stop-color="#2ac800"/><stop offset="0.468" stop-color="#0bc800"/><stop offset="0.513" stop-color="#07c800"/><stop offset="0.551" stop-color="#12c800"/><stop offset="0.609" stop-color="#32c800"/><stop offset="0.692" stop-color="#38c800"/><stop offset="1.000" stop-color="#38c800"/></linearGradient><linearGradient id="g87" gradientUnits="userSpaceOnUse" x1="2" y1="0" x2="158" y2="0"><stop offset="0.000" stop-color="#3cc800"/><stop offset="0.372" stop-color="#39c800"/><stop offset="0.417" stop-color="#2cc800"/><stop offset="0.474" stop-color="#12c800"/><stop offset="0.519" stop-color="#11c800"/><stop offset="0.564" stop-color="#21c800"/><stop offset="0.609" stop-color="#36c800"/><stop offset="0.705" stop-color="#3cc800"/><stop offset="1.000" stop-color="#3cc800"/></linearGradient><linearGradient id="g88" gradientUnits="userSpaceOnUse" x1="2" y1="0" x2="158" y2="0"><stop offset="0.000" stop-color="#40c800"/><stop offset="0.372" stop-color="#3dc800"/><stop offset="0.417" stop-color="#32c800"/><stop offset="0.474" stop-color="#1ac800"/><stop offset="0.519" stop-color="#19c800"/><stop offset="0.571" stop-color="#2bc800"/><stop offset="0.615" stop-color="#3bc800"/><stop offset="0.776" stop-color="#40c800"/><stop offset="1.000" stop-color="#40c800"/></linearGradient><linearGradient id="g89" gradientUnits="userSpaceOnUse" x1="2" y1="0" x2="158" y2="0"><stop offset="0.000" stop-color="#43c800"/><stop offset="0.372" stop-color="#41c800"/><stop offset="0.423" stop-color="#34c800"/><stop offset="0.481" stop-color="#20c800"/><stop offset="0.526" stop-color="#21c800"/><stop offset="0.615" stop-color="#3fc800"/><stop offset="0.776" stop-color="#43c800"/><stop offset="1.000" stop-color="#43c800"/></linearGradient><linearGradient id="g90" gradientUnits="userSpaceOnUse" x1="2" y1="0" x2="158" y2="0"><stop offset="0.000" stop-color="#47c800"/><stop offset="0.378" stop-color="#44c800"/><stop offset="0.442" stop-color="#33c800"/><stop offset="0.494" stop-color="#28c800"/><stop offset="0.545" stop-color="#2fc800"/><stop offset="0.615" stop-color="#43c800"/><stop offset="0.821" stop-color="#47c800"/><stop offset="1.000" stop-color="#47c800"/></linearGradient><linearGradient id="g91" gradientUnits="userSpaceOnUse" x1="2" y1="0" x2="158" y2="0"><stop offset="0.000" stop-color="#4bc800"/><stop offset="0.378" stop-color="#48c800"/><stop offset="0.494" stop-color="#30c800"/><stop offset="0.551" stop-color="#38c800"/><stop offset="0.622" stop-color="#48c800"/><stop offset="1.000" stop-color="#4bc800"/></linearGradient><linearGradient id="g92" gradientUnits="userSpaceOnUse" x1="2" y1="0" x2="158" y2="0"><stop offset="0.000" stop-color="#4ec800"/><stop offset="0.385" stop-color="#4bc800"/><stop offset="0.500" stop-color="#37c800"/><stop offset="0.571" stop-color="#43c800"/><stop offset="0.654" stop-color="#4ec800"/><stop offset="1.000" stop-color="#4ec800"/></linearGradient><linearGradient id="g93" gradientUnits="userSpaceOnUse" x1="2" y1="0" x2="158" y2="0"><stop offset="0.000" stop-color="#53c800"/><stop offset="0.385" stop-color="#50c800"/><stop offset="0.500" stop-color="#3fc800"/><stop offset="0.647" stop-color="#52c800"/><stop offset="1.000" stop-color="#53c800"/></linearGradient><linearGradient id="g94" gradientUnits="userSpaceOnUse" x1="2" y1="0" x2="158" y2="0"><stop offset="0.000" stop-color="#58c800"/><stop offset="0.391" stop-color="#55c800"/><stop offset="0.506" stop-color="#47c800"/><stop offset="0.647" stop-color="#57c800"/><stop offset="1.000" stop-color="#58c800"/></linearGradient><linearGradient id="g95" gradientUnits="userSpaceOnUse" x1="2" y1="0" x2="158" y2="0"><stop offset="0.000" stop-color="#5dc800"/><stop offset="0.397" stop-color="#5ac800"/><stop offset="0.506" stop-color="#4fc800"/><stop offset="0.660" stop-color="#5cc800"/><stop offset="1.000" stop-color="#5dc800"/></linearGradient><linearGradient id="g96" gradientUnits="userSpaceOnUse" x1="2" y1="0" x2="158" y2="0"><stop offset="0.000" stop-color="#62c800"/><stop offset="0.404" stop-color="#5fc800"/><stop offset="0.513" stop-color="#56c800"/><stop offset="0.667" stop-color="#62c800"/><stop offset="1.000" stop-color="#62c800"/></linearGradient><linearGradient id="g97" gradientUnits="userSpaceOnUse" x1="2" y1="0" x2="158" y2="0"><stop offset="0.000" stop-color="#67c800"/><stop offset="0.410" stop-color="#64c800"/><stop offset="0.519" stop-color="#5ec800"/><stop offset="0.679" stop-color="#67c800"/><stop offset="1.000" stop-color="#67c800"/></linearGradient><linearGradient id="g98" gradientUnits="userSpaceOnUse" x1="2" y1="0" x2="158" y2="0"><stop offset="0.000" stop-color="#6cc800"/><stop offset="0.423" stop-color="#69c800"/><stop offset="0.532" stop-color="#66c800"/><stop offset="0.718" stop-color="#6cc800"/><stop offset="1.000" stop-color="#6cc800"/></linearGradient><linearGradient id="g99" gradientUnits="userSpaceOnUse" x1="2" y1="0" x2="158" y2="0"><stop offset="0.000" stop-color="#71c800"/><stop offset="0.442" stop-color="#6dc800"/><stop offset="0.571" stop-color="#6ec800"/><stop offset="1.000" stop-color="#71c800"/></linearGradient><linearGradient id="g100" gradientUnits="userSpaceOnUse" x1="2" y1="0" x2="158" y2="0"><stop offset="0.000" stop-color="#75c800"/><stop offset="0.596" stop-color="#75c800"/><stop offset="1.000" stop-color="#75c800"/></linearGradient><linearGradient id="g101" gradientUnits="userSpaceOnUse" x1="2" y1="0" x2="158" y2="0"><stop offset="0.000" stop-color="#a2c800"/><stop offset="0.981" stop-color="#a1c800"/><stop offset="1.000" stop-color="#a2c800"/></linearGradient><linearGradient id="g102" gradientUnits="userSpaceOnUse" x1="2" y1="0" x2="158" y2="0"><stop offset="0.000" stop-color="#a7c800"/><stop offset="0.603" stop-color="#a2c800"/><stop offset="1.000" stop-color="#a7c800"/></linearGradient><linearGradient id="g103" gradientUnits="userSpaceOnUse" x1="2" y1="0" x2="158" y2="0"><stop offset="0.000" stop-color="#acc800"/><stop offset="0.429" stop-color="#a4c800"/><stop offset="0.923" stop-color="#aac800"/><stop offset="1.000" stop-color="#acc800"/></linearGradient><linearGradient id="g104" gradientUnits="userSpaceOnUse" x1="2" y1="0" x2="158" y2="0"><stop offset="0.000" stop-color="#afc800"/><stop offset="0.026" stop-color="#b2c800"/><stop offset="0.346" stop-color="#a7c800"/><stop offset="0.853" stop-color="#abc800"/><stop offset="0.994" stop-color="#b1c800"/><stop offset="1.000" stop-color="#afc800"/></linearGradient><linearGradient id="g105" gradientUnits="userSpaceOnUse" x1="2" y1="0" x2="158" y2="0"><stop offset="0.000" stop-color="#b0c800"/><stop offset="0.026" stop-color="#b7c800"/><stop offset="0.288" stop-color="#aac800"/><stop offset="0.788" stop-color="#acc800"/><stop offset="0.981" stop-color="#b6c800"/><stop offset="1.000" stop-color="#b0c800"/></linearGradient><linearGradient id="g106" gradientUnits="userSpaceOnUse" x1="2" y1="0" x2="158" y2="0"><stop offset="0.000" stop-color="#afc800"/><stop offset="0.032" stop-color="#bbc800"/><stop offset="0.256" stop-color="#acc800"/><stop offset="0.737" stop-color="#acc800"/><stop offset="0.962" stop-color="#bbc800"/><stop offset="0.981" stop-color="#b6c800"/><stop offset="1.000" stop-color="#afc800"/></linearGradient><linearGradient id="g107" gradientUnits="userSpaceOnUse" x1="2" y1="0" x2="158" y2="0"><stop offset="0.000" stop-color="#afc800"/><stop offset="0.045" stop-color="#bfc800"/><stop offset="0.250" stop-color="#adc800"/><stop offset="0.673" stop-color="#abc800"/><stop offset="0.897" stop-color="#b8c800"/><stop offset="0.962" stop-color="#bec800"/><stop offset="1.000" stop-color="#afc800"/></linearGradient><linearGradient id="g108" gradientUnits="userSpaceOnUse" x1="2" y1="0" x2="158" y2="0"><stop offset="0.000" stop-color="#afc800"/><stop offset="0.051" stop-color="#c2c800"/><stop offset="0.244" stop-color="#afc800"/><stop offset="0.609" stop-color="#abc800"/><stop offset="0.840" stop-color="#b5c800"/><stop offset="0.949" stop-color="#c2c800"/><stop offset="1.000" stop-color="#afc800"/></linearGradient><linearGradient id="g109" gradientUnits="userSpaceOnUse" x1="2" y1="0" x2="158" y2="0"><stop offset="0.000" stop-color="#b0c800"/><stop offset="0.064" stop-color="#c5c800"/><stop offset="0.237" stop-color="#b1c800"/><stop offset="0.538" stop-color="#abc800"/><stop offset="0.788" stop-color="#b3c800"/><stop offset="0.942" stop-color="#c3c800"/><stop offset="1.000" stop-color="#b0c800"/></linearGradient><linearGradient id="g110" gradientUnits="userSpaceOnUse" x1="2" y1="0" x2="158" y2="0"><stop offset="0.000" stop-color="#b2c800"/><stop offset="0.058" stop-color="#c1c800"/><stop offset="0.077" stop-color="#c6c800"/><stop offset="0.244" stop-color="#b2c800"/><stop offset="0.526" stop-color="#acc800"/><stop offset="0.776" stop-color="#b3c800"/><stop offset="0.929" stop-color="#c6c800"/><stop offset="0.987" stop-color="#b4c800"/><stop offset="1.000" stop-color="#b2c800"/></linearGradient><linearGradient id="g111" gradientUnits="userSpaceOnUse" x1="2" y1="0" x2="158" y2="0"><stop offset="0.000" stop-color="#b5c800"/><stop offset="0.064" stop-color="#c1c800"/><stop offset="0.083" stop-color="#c8c800"/><stop offset="0.244" stop-color="#b3c800"/><stop offset="0.500" stop-color="#acc800"/><stop offset="0.756" stop-color="#b3c800"/><stop offset="0.917" stop-color="#c8c800"/><stop offset="0.987" stop-color="#b6c800"/><stop offset="1.000" stop-color="#b5c800"/></linearGradient><linearGradient id="g112" gradientUnits="userSpaceOnUse" x1="2" y1="0" x2="158" y2="0"><stop offset="0.000" stop-color="#b8c800"/><stop offset="0.077" stop-color="#c3c800"/><stop offset="0.103" stop-color="#c6c800"/><stop offset="0.263" stop-color="#b3c800"/><stop offset="0.545" stop-color="#adc800"/><stop offset="0.769" stop-color="#b5c800"/><stop offset="0.910" stop-color="#c7c800"/><stop offset="0.981" stop-color="#b9c800"/><stop offset="1.000" stop-color="#b8c800"/></linearGradient><linearGradient id="g113" gradientUnits="userSpaceOnUse" x1="2" y1="0" x2="158" y2="0"><stop offset="0.000" stop-color="#bcc800"/><stop offset="0.090" stop-color="#c5c800"/><stop offset="0.115" stop-color="#c6c800"/><stop offset="0.269" stop-color="#b3c800"/><stop offset="0.551" stop-color="#aec800"/><stop offset="0.769" stop-color="#b6c800"/><stop offset="0.904" stop-color="#c6c800"/><stop offset="0.994" stop-color="#bcc800"/><stop offset="1.000" stop-color="#bcc800"/></linearGradient><linearGradient id="g114" gradientUnits="userSpaceOnUse" x1="2" y1="0" x2="158" y2="0"><stop offset="0.000" stop-color="#c1c800"/><stop offset="0.122" stop-color="#c7c800"/><stop offset="0.276" stop-color="#b4c800"/><stop offset="0.558" stop-color="#afc800"/><stop offset="0.763" stop-color="#b7c800"/><stop offset="0.891" stop-color="#c7c800"/><stop offset="1.000" stop-color="#c1c800"/></linearGradient><linearGradient id="g115" gradientUnits="userSpaceOnUse" x1="2" y1="0" x2="158" y2="0"><stop offset="0.000" stop-color="#c6c800"/><stop offset="0.154" stop-color="#c7c800"/><stop offset="0.295" stop-color="#b4c800"/><stop offset="0.564" stop-color="#afc800"/><stop offset="0.750" stop-color="#b8c800"/><stop offset="0.865" stop-color="#c8c800"/><stop offset="1.000" stop-color="#c6c800"/></linearGradient><linearGradient id="g116" gradientUnits="userSpaceOnUse" x1="2" y1="0" x2="158" y2="0"><stop offset="0.000" stop-color="#c8c700"/><stop offset="0.186" stop-color="#c6c800"/><stop offset="0.321" stop-color="#b4c800"/><stop offset="0.590" stop-color="#b0c800"/><stop offset="0.750" stop-color="#bbc800"/><stop offset="0.840" stop-color="#c8c800"/><stop offset="1.000" stop-color="#c8c700"/></linearGradient><linearGradient id="g117" gradientUnits="userSpaceOnUse" x1="2" y1="0" x2="158" y2="0"><stop offset="0.000" stop-color="#c8c300"/><stop offset="0.218" stop-color="#c6c800"/><stop offset="0.340" stop-color="#b4c800"/><stop offset="0.590" stop-color="#b1c800"/><stop offset="0.731" stop-color="#bcc800"/><stop offset="0.808" stop-color="#c8c700"/><stop offset="1.000" stop-color="#c8c300"/></linearGradient><linearGradient id="g118" gradientUnits="userSpaceOnUse" x1="2" y1="0" x2="158" y2="0"><stop offset="0.000" stop-color="#c8c000"/><stop offset="0.212" stop-color="#c8c400"/><stop offset="0.256" stop-color="#c4c800"/><stop offset="0.365" stop-color="#b4c800"/><stop offset="0.603" stop-color="#b2c800"/><stop offset="0.724" stop-color="#c0c800"/><stop offset="0.776" stop-color="#c8c600"/><stop offset="0.917" stop-color="#c8c000"/><stop offset="1.000" stop-color="#c8c000"/></linearGradient><linearGradient id="g119" gradientUnits="userSpaceOnUse" x1="2" y1="0" x2="158" y2="0"><stop offset="0.000" stop-color="#c8bd00"/><stop offset="0.218" stop-color="#c8c000"/><stop offset="0.276" stop-color="#c6c800"/><stop offset="0.372" stop-color="#b5c800"/><stop offset="0.577" stop-color="#b2c800"/><stop offset="0.692" stop-color="#bec800"/><stop offset="0.744" stop-color="#c8c600"/><stop offset="0.840" stop-color="#c8bd00"/><stop offset="1.000" stop-color="#c8bd00"/></linearGradient><linearGradient id="g120" gradientUnits="userSpaceOnUse" x1="2" y1="0" x2="158" y2="0"><stop offset="0.000" stop-color="#c8b900"/><stop offset="0.231" stop-color="#c8bd00"/><stop offset="0.295" stop-color="#c6c800"/><stop offset="0.385" stop-color="#b5c800"/><stop offset="0.571" stop-color="#b2c800"/><stop offset="0.673" stop-color="#bec800"/><stop offset="0.724" stop-color="#c8c500"/><stop offset="0.808" stop-color="#c8ba00"/><stop offset="1.000" stop-color="#c8b900"/></linearGradient><linearGradient id="g121" gradientUnits="userSpaceOnUse" x1="2" y1="0" x2="158" y2="0"><stop offset="0.000" stop-color="#c8b600"/><stop offset="0.244" stop-color="#c8b900"/><stop offset="0.314" stop-color="#c6c800"/><stop offset="0.397" stop-color="#b5c800"/><stop offset="0.571" stop-color="#b3c800"/><stop offset="0.660" stop-color="#bfc800"/><stop offset="0.699" stop-color="#c8c600"/><stop offset="0.769" stop-color="#c8b800"/><stop offset="1.000" stop-color="#c8b600"/></linearGradient><linearGradient id="g122" gradientUnits="userSpaceOnUse" x1="2" y1="0" x2="158" y2="0"><stop offset="0.000" stop-color="#c8b300"/><stop offset="0.256" stop-color="#c8b600"/><stop offset="0.321" stop-color="#c8c600"/><stop offset="0.410" stop-color="#b5c800"/><stop offset="0.571" stop-color="#b3c800"/><stop offset="0.647" stop-color="#c0c800"/><stop offset="0.679" stop-color="#c8c600"/><stop offset="0.744" stop-color="#c8b600"/><stop offset="1.000" stop-color="#c8b300"/></linearGradient><linearGradient id="g123" gradientUnits="userSpaceOnUse" x1="2" y1="0" x2="158" y2="0"><stop offset="0.000" stop-color="#c8af00"/><stop offset="0.263" stop-color="#c8b300"/><stop offset="0.321" stop-color="#c8c100"/><stop offset="0.346" stop-color="#c5c800"/><stop offset="0.417" stop-color="#b5c800"/><stop offset="0.571" stop-color="#b4c800"/><stop offset="0.647" stop-color="#c2c800"/><stop offset="0.673" stop-color="#c8c400"/><stop offset="0.731" stop-color="#c8b400"/><stop offset="0.936" stop-color="#c8af00"/><stop offset="1.000" stop-color="#c8af00"/></linearGradient><linearGradient id="g124" gradientUnits="userSpaceOnUse" x1="2" y1="0" x2="158" y2="0"><stop offset="0.000" stop-color="#c8ac00"/><stop offset="0.269" stop-color="#c8b000"/><stop offset="0.327" stop-color="#c8bf00"/><stop offset="0.353" stop-color="#c6c800"/><stop offset="0.417" stop-color="#b6c800"/><stop offset="0.558" stop-color="#b3c800"/><stop offset="0.628" stop-color="#bfc800"/><stop offset="0.660" stop-color="#c8c500"/><stop offset="0.718" stop-color="#c8b200"/><stop offset="0.859" stop-color="#c8ac00"/><stop offset="1.000" stop-color="#c8ac00"/></linearGradient><linearGradient id="g125" gradientUnits="userSpaceOnUse" x1="2" y1="0" x2="158" y2="0"><stop offset="0.000" stop-color="#c8a900"/><stop offset="0.276" stop-color="#c8ad00"/><stop offset="0.327" stop-color="#c8ba00"/><stop offset="0.359" stop-color="#c7c800"/><stop offset="0.423" stop-color="#b6c800"/><stop offset="0.558" stop-color="#b4c800"/><stop offset="0.622" stop-color="#c0c800"/><stop offset="0.647" stop-color="#c8c600"/><stop offset="0.699" stop-color="#c8b100"/><stop offset="0.788" stop-color="#c8a900"/><stop offset="1.000" stop-color="#c8a900"/></linearGradient><linearGradient id="g126" gradientUnits="userSpaceOnUse" x1="2" y1="0" x2="158" y2="0"><stop offset="0.000" stop-color="#c8a600"/><stop offset="0.282" stop-color="#c8a900"/><stop offset="0.333" stop-color="#c8b700"/><stop offset="0.365" stop-color="#c8c800"/><stop offset="0.423" stop-color="#b7c800"/><stop offset="0.538" stop-color="#b3c800"/><stop offset="0.609" stop-color="#bec800"/><stop offset="0.635" stop-color="#c8c800"/><stop offset="0.686" stop-color="#c8b000"/><stop offset="0.756" stop-color="#c8a700"/><stop offset="1.000" stop-color="#c8a600"/></linearGradient><linearGradient id="g127" gradientUnits="userSpaceOnUse" x1="2" y1="0" x2="158" y2="0"><stop offset="0.000" stop-color="#c8a300"/><stop offset="0.288" stop-color="#c8a600"/><stop offset="0.340" stop-color="#c8b400"/><stop offset="0.378" stop-color="#c7c800"/><stop offset="0.429" stop-color="#b7c800"/><stop offset="0.538" stop-color="#b4c800"/><stop offset="0.603" stop-color="#bfc800"/><stop offset="0.628" stop-color="#c8c600"/><stop offset="0.679" stop-color="#c8ad00"/><stop offset="0.756" stop-color="#c8a400"/><stop offset="1.000" stop-color="#c8a300"/></linearGradient><linearGradient id="g128" gradientUnits="userSpaceOnUse" x1="2" y1="0" x2="158" y2="0"><stop offset="0.000" stop-color="#c8a100"/><stop offset="0.295" stop-color="#c8a400"/><stop offset="0.346" stop-color="#c8b200"/><stop offset="0.385" stop-color="#c7c800"/><stop offset="0.436" stop-color="#b7c800"/><stop offset="0.545" stop-color="#b4c800"/><stop offset="0.603" stop-color="#c1c800"/><stop offset="0.622" stop-color="#c8c500"/><stop offset="0.667" stop-color="#c8ad00"/><stop offset="0.731" stop-color="#c8a200"/><stop offset="1.000" stop-color="#c8a100"/></linearGradient><linearGradient id="g129" gradientUnits="userSpaceOnUse" x1="2" y1="0" x2="158" y2="0"><stop offset="0.000" stop-color="#c89e00"/><stop offset="0.295" stop-color="#c8a100"/><stop offset="0.346" stop-color="#c8ad00"/><stop offset="0.391" stop-color="#c7c800"/><stop offset="0.436" stop-color="#b8c800"/><stop offset="0.532" stop-color="#b4c800"/><stop offset="0.590" stop-color="#bfc800"/><stop offset="0.609" stop-color="#c7c800"/><stop offset="0.660" stop-color="#c8ab00"/><stop offset="0.718" stop-color="#c8a000"/><stop offset="1.000" stop-color="#c89e00"/></linearGradient><linearGradient id="g130" gradientUnits="userSpaceOnUse" x1="2" y1="0" x2="158" y2="0"><stop offset="0.000" stop-color="#c89c00"/><stop offset="0.301" stop-color="#c89f00"/><stop offset="0.353" stop-color="#c8ab00"/><stop offset="0.397" stop-color="#c8c800"/><stop offset="0.442" stop-color="#b7c800"/><stop offset="0.538" stop-color="#b5c800"/><stop offset="0.590" stop-color="#c1c800"/><stop offset="0.603" stop-color="#c8c800"/><stop offset="0.647" stop-color="#c8ab00"/><stop offset="0.699" stop-color="#c89f00"/><stop offset="1.000" stop-color="#c89c00"/></linearGradient><linearGradient id="g131" gradientUnits="userSpaceOnUse" x1="2" y1="0" x2="158" y2="0"><stop offset="0.000" stop-color="#c89900"/><stop offset="0.308" stop-color="#c89d00"/><stop offset="0.359" stop-color="#c8aa00"/><stop offset="0.404" stop-color="#c8c800"/><stop offset="0.449" stop-color="#b7c800"/><stop offset="0.538" stop-color="#b5c800"/><stop offset="0.583" stop-color="#c1c800"/><stop offset="0.596" stop-color="#c8c800"/><stop offset="0.641" stop-color="#c8aa00"/><stop offset="0.692" stop-color="#c89d00"/><stop offset="1.000" stop-color="#c89900"/></linearGradient><linearGradient id="g132" gradientUnits="userSpaceOnUse" x1="2" y1="0" x2="158" y2="0"><stop offset="0.000" stop-color="#c89800"/><stop offset="0.314" stop-color="#c89b00"/><stop offset="0.365" stop-color="#c8aa00"/><stop offset="0.410" stop-color="#c7c800"/><stop offset="0.449" stop-color="#b8c800"/><stop offset="0.532" stop-color="#b5c800"/><stop offset="0.577" stop-color="#c0c800"/><stop offset="0.596" stop-color="#c8c500"/><stop offset="0.641" stop-color="#c8a700"/><stop offset="0.692" stop-color="#c89b00"/><stop offset="1.000" stop-color="#c89800"/></linearGradient><linearGradient id="g133" gradientUnits="userSpaceOnUse" x1="2" y1="0" x2="158" y2="0"><stop offset="0.000" stop-color="#c89700"/><stop offset="0.314" stop-color="#c89a00"/><stop offset="0.365" stop-color="#c8a700"/><stop offset="0.417" stop-color="#c6c800"/><stop offset="0.455" stop-color="#b7c800"/><stop offset="0.538" stop-color="#b6c800"/><stop offset="0.577" stop-color="#c2c800"/><stop offset="0.590" stop-color="#c8c600"/><stop offset="0.635" stop-color="#c8a700"/><stop offset="0.686" stop-color="#c89a00"/><stop offset="1.000" stop-color="#c89700"/></linearGradient><linearGradient id="g134" gradientUnits="userSpaceOnUse" x1="2" y1="0" x2="158" y2="0"><stop offset="0.000" stop-color="#c89600"/><stop offset="0.321" stop-color="#c89900"/><stop offset="0.372" stop-color="#c8a700"/><stop offset="0.417" stop-color="#c8c800"/><stop offset="0.455" stop-color="#b8c800"/><stop offset="0.532" stop-color="#b6c800"/><stop offset="0.571" stop-color="#c1c800"/><stop offset="0.583" stop-color="#c8c800"/><stop offset="0.628" stop-color="#c8a700"/><stop offset="0.679" stop-color="#c89900"/><stop offset="1.000" stop-color="#c89600"/></linearGradient><linearGradient id="g135" gradientUnits="userSpaceOnUse" x1="2" y1="0" x2="158" y2="0"><stop offset="0.000" stop-color="#c89500"/><stop offset="0.321" stop-color="#c89900"/><stop offset="0.372" stop-color="#c8a600"/><stop offset="0.423" stop-color="#c6c800"/><stop offset="0.462" stop-color="#b8c800"/><stop offset="0.538" stop-color="#b8c800"/><stop offset="0.583" stop-color="#c8c600"/><stop offset="0.628" stop-color="#c8a600"/><stop offset="0.679" stop-color="#c89900"/><stop offset="1.000" stop-color="#c89500"/></linearGradient><linearGradient id="g136" gradientUnits="userSpaceOnUse" x1="2" y1="0" x2="158" y2="0"><stop offset="0.000" stop-color="#c89500"/><stop offset="0.321" stop-color="#c89800"/><stop offset="0.372" stop-color="#c8a400"/><stop offset="0.410" stop-color="#c8bf00"/><stop offset="0.423" stop-color="#c7c800"/><stop offset="0.462" stop-color="#b8c800"/><stop offset="0.538" stop-color="#b8c800"/><stop offset="0.577" stop-color="#c7c800"/><stop offset="0.628" stop-color="#c8a400"/><stop offset="0.679" stop-color="#c89800"/><stop offset="1.000" stop-color="#c89500"/></linearGradient><linearGradient id="g137" gradientUnits="userSpaceOnUse" x1="2" y1="0" x2="158" y2="0"><stop offset="0.000" stop-color="#c89400"/><stop offset="0.327" stop-color="#c89700"/><stop offset="0.372" stop-color="#c8a300"/><stop offset="0.410" stop-color="#c8bd00"/><stop offset="0.423" stop-color="#c8c800"/><stop offset="0.462" stop-color="#b9c800"/><stop offset="0.538" stop-color="#b9c800"/><stop offset="0.577" stop-color="#c8c800"/><stop offset="0.622" stop-color="#c8a600"/><stop offset="0.667" stop-color="#c89800"/><stop offset="0.859" stop-color="#c89400"/><stop offset="1.000" stop-color="#c89400"/></linearGradient><linearGradient id="g138" gradientUnits="userSpaceOnUse" x1="2" y1="0" x2="158" y2="0"><stop offset="0.000" stop-color="#c89300"/><stop offset="0.327" stop-color="#c89600"/><stop offset="0.372" stop-color="#c8a100"/><stop offset="0.410" stop-color="#c8bb00"/><stop offset="0.429" stop-color="#c6c800"/><stop offset="0.468" stop-color="#b9c800"/><stop offset="0.538" stop-color="#bac800"/><stop offset="0.577" stop-color="#c8c600"/><stop offset="0.622" stop-color="#c8a400"/><stop offset="0.667" stop-color="#c89700"/><stop offset="0.885" stop-color="#c89300"/><stop offset="1.000" stop-color="#c89300"/></linearGradient><linearGradient id="g139" gradientUnits="userSpaceOnUse" x1="2" y1="0" x2="158" y2="0"><stop offset="0.000" stop-color="#c89200"/><stop offset="0.327" stop-color="#c89500"/><stop offset="0.378" stop-color="#c8a200"/><stop offset="0.417" stop-color="#c8be00"/><stop offset="0.429" stop-color="#c7c800"/><stop offset="0.468" stop-color="#bac800"/><stop offset="0.538" stop-color="#bbc800"/><stop offset="0.571" stop-color="#c7c800"/><stop offset="0.622" stop-color="#c8a200"/><stop offset="0.673" stop-color="#c89500"/><stop offset="1.000" stop-color="#c89200"/></linearGradient><linearGradient id="g140" gradientUnits="userSpaceOnUse" x1="2" y1="0" x2="158" y2="0"><stop offset="0.000" stop-color="#c89100"/><stop offset="0.333" stop-color="#c89400"/><stop offset="0.378" stop-color="#c8a000"/><stop offset="0.417" stop-color="#c8bb00"/><stop offset="0.429" stop-color="#c8c700"/><stop offset="0.468" stop-color="#bbc800"/><stop offset="0.538" stop-color="#bcc800"/><stop offset="0.571" stop-color="#c8c700"/><stop offset="0.615" stop-color="#c8a400"/><stop offset="0.660" stop-color="#c89500"/><stop offset="0.840" stop-color="#c89100"/><stop offset="1.000" stop-color="#c89100"/></linearGradient><linearGradient id="g141" gradientUnits="userSpaceOnUse" x1="2" y1="0" x2="158" y2="0"><stop offset="0.000" stop-color="#c89100"/><stop offset="0.333" stop-color="#c89300"/><stop offset="0.378" stop-color="#c89e00"/><stop offset="0.417" stop-color="#c8b900"/><stop offset="0.436" stop-color="#c7c800"/><stop offset="0.474" stop-color="#bcc800"/><stop offset="0.545" stop-color="#bfc800"/><stop offset="0.571" stop-color="#c8c500"/><stop offset="0.615" stop-color="#c8a200"/><stop offset="0.660" stop-color="#c89400"/><stop offset="0.872" stop-color="#c89000"/><stop offset="1.000" stop-color="#c89100"/></linearGradient><linearGradient id="g142" gradientUnits="userSpaceOnUse" x1="2" y1="0" x2="158" y2="0"><stop offset="0.000" stop-color="#c89000"/><stop offset="0.340" stop-color="#c89200"/><stop offset="0.385" stop-color="#c89f00"/><stop offset="0.423" stop-color="#c8bd00"/><stop offset="0.442" stop-color="#c6c800"/><stop offset="0.487" stop-color="#bec800"/><stop offset="0.545" stop-color="#c2c800"/><stop offset="0.564" stop-color="#c8c700"/><stop offset="0.615" stop-color="#c8a000"/><stop offset="0.660" stop-color="#c89200"/><stop offset="1.000" stop-color="#c89000"/></linearGradient><linearGradient id="g143" gradientUnits="userSpaceOnUse" x1="2" y1="0" x2="158" y2="0"><stop offset="0.000" stop-color="#c89000"/><stop offset="0.340" stop-color="#c89000"/><stop offset="0.385" stop-color="#c89d00"/><stop offset="0.423" stop-color="#c8b900"/><stop offset="0.442" stop-color="#c8c700"/><stop offset="0.500" stop-color="#c2c800"/><stop offset="0.558" stop-color="#c8c700"/><stop offset="0.583" stop-color="#c8b400"/><stop offset="0.622" stop-color="#c89a00"/><stop offset="0.673" stop-color="#c88f00"/><stop offset="1.000" stop-color="#c89000"/></linearGradient><linearGradient id="g144" gradientUnits="userSpaceOnUse" x1="2" y1="0" x2="158" y2="0"><stop offset="0.000" stop-color="#c88f00"/><stop offset="0.346" stop-color="#c88f00"/><stop offset="0.391" stop-color="#c89d00"/><stop offset="0.442" stop-color="#c8c300"/><stop offset="0.474" stop-color="#c7c800"/><stop offset="0.551" stop-color="#c8c500"/><stop offset="0.571" stop-color="#c8bc00"/><stop offset="0.609" stop-color="#c89d00"/><stop offset="0.654" stop-color="#c88f00"/><stop offset="1.000" stop-color="#c88f00"/></linearGradient><linearGradient id="g145" gradientUnits="userSpaceOnUse" x1="2" y1="0" x2="158" y2="0"><stop offset="0.000" stop-color="#c88f00"/><stop offset="0.353" stop-color="#c88c00"/><stop offset="0.391" stop-color="#c89800"/><stop offset="0.442" stop-color="#c8bd00"/><stop offset="0.487" stop-color="#c8c500"/><stop offset="0.545" stop-color="#c8c200"/><stop offset="0.571" stop-color="#c8b500"/><stop offset="0.609" stop-color="#c89800"/><stop offset="0.654" stop-color="#c88c00"/><stop offset="1.000" stop-color="#c88f00"/></linearGradient><linearGradient id="g146" gradientUnits="userSpaceOnUse" x1="2" y1="0" x2="158" y2="0"><stop offset="0.000" stop-color="#c88f00"/><stop offset="0.295" stop-color="#c88900"/><stop offset="0.372" stop-color="#c88b00"/><stop offset="0.410" stop-color="#c89c00"/><stop offset="0.449" stop-color="#c8b900"/><stop offset="0.500" stop-color="#c8bf00"/><stop offset="0.551" stop-color="#c8b900"/><stop offset="0.609" stop-color="#c89200"/><stop offset="0.654" stop-color="#c88800"/><stop offset="1.000" stop-color="#c88f00"/></linearGradient><linearGradient id="g147" gradientUnits="userSpaceOnUse" x1="2" y1="0" x2="158" y2="0"><stop offset="0.000" stop-color="#c88f00"/><stop offset="0.263" stop-color="#c88800"/><stop offset="0.372" stop-color="#c88300"/><stop offset="0.410" stop-color="#c88f00"/><stop offset="0.462" stop-color="#c8b400"/><stop offset="0.513" stop-color="#c8b800"/><stop offset="0.545" stop-color="#c8b100"/><stop offset="0.590" stop-color="#c88f00"/><stop offset="0.628" stop-color="#c88400"/><stop offset="0.936" stop-color="#c88f00"/><stop offset="1.000" stop-color="#c88f00"/></linearGradient><linearGradient id="g148" gradientUnits="userSpaceOnUse" x1="2" y1="0" x2="158" y2="0"><stop offset="0.000" stop-color="#c88e00"/><stop offset="0.244" stop-color="#c88800"/><stop offset="0.391" stop-color="#c87a00"/><stop offset="0.429" stop-color="#c88300"/><stop offset="0.468" stop-color="#c8a000"/><stop offset="0.487" stop-color="#c8af00"/><stop offset="0.513" stop-color="#c8b000"/><stop offset="0.564" stop-color="#c88700"/><stop offset="0.603" stop-color="#c87c00"/><stop offset="0.705" stop-color="#c88400"/><stop offset="0.885" stop-color="#c88e00"/><stop offset="1.000" stop-color="#c88e00"/></linearGradient><linearGradient id="g149" gradientUnits="userSpaceOnUse" x1="2" y1="0" x2="158" y2="0"><stop offset="0.000" stop-color="#c88e00"/><stop offset="0.224" stop-color="#c88800"/><stop offset="0.423" stop-color="#c86e00"/><stop offset="0.462" stop-color="#c87500"/><stop offset="0.494" stop-color="#c88b00"/><stop offset="0.500" stop-color="#c89100"/><stop offset="0.532" stop-color="#c87900"/><stop offset="0.571" stop-color="#c86f00"/><stop offset="0.660" stop-color="#c87900"/><stop offset="0.801" stop-color="#c88b00"/><stop offset="1.000" stop-color="#c88e00"/></linearGradient><linearGradient id="g150" gradientUnits="userSpaceOnUse" x1="2" y1="0" x2="158" y2="0"><stop offset="0.000" stop-color="#c88e00"/><stop offset="0.218" stop-color="#c88800"/><stop offset="0.359" stop-color="#c87100"/><stop offset="0.436" stop-color="#c86600"/><stop offset="0.474" stop-color="#c86d00"/><stop offset="0.500" stop-color="#c87d00"/><stop offset="0.532" stop-color="#c86b00"/><stop offset="0.577" stop-color="#c86700"/><stop offset="0.776" stop-color="#c88800"/><stop offset="1.000" stop-color="#c88e00"/></linearGradient><linearGradient id="g151" gradientUnits="userSpaceOnUse" x1="2" y1="0" x2="158" y2="0"><stop offset="0.000" stop-color="#c88e00"/><stop offset="0.212" stop-color="#c88800"/><stop offset="0.340" stop-color="#c87200"/><stop offset="0.436" stop-color="#c86100"/><stop offset="0.474" stop-color="#c86500"/><stop offset="0.500" stop-color="#c87300"/><stop offset="0.532" stop-color="#c86400"/><stop offset="0.583" stop-color="#c86400"/><stop offset="0.763" stop-color="#c88600"/><stop offset="0.949" stop-color="#c88e00"/><stop offset="1.000" stop-color="#c88e00"/></linearGradient><linearGradient id="g152" gradientUnits="userSpaceOnUse" x1="2" y1="0" x2="158" y2="0"><stop offset="0.000" stop-color="#c88e00"/><stop offset="0.212" stop-color="#c88700"/><stop offset="0.333" stop-color="#c87200"/><stop offset="0.436" stop-color="#c85c00"/><stop offset="0.481" stop-color="#c86100"/><stop offset="0.500" stop-color="#c86a00"/><stop offset="0.532" stop-color="#c85e00"/><stop offset="0.583" stop-color="#c86000"/><stop offset="0.756" stop-color="#c88400"/><stop offset="0.917" stop-color="#c88d00"/><stop offset="1.000" stop-color="#c88e00"/></linearGradient><linearGradient id="g153" gradientUnits="userSpaceOnUse" x1="2" y1="0" x2="158" y2="0"><stop offset="0.000" stop-color="#c88d00"/><stop offset="0.205" stop-color="#c88700"/><stop offset="0.321" stop-color="#c87300"/><stop offset="0.436" stop-color="#c85700"/><stop offset="0.481" stop-color="#c85a00"/><stop offset="0.500" stop-color="#c86100"/><stop offset="0.538" stop-color="#c85700"/><stop offset="0.603" stop-color="#c86000"/><stop offset="0.744" stop-color="#c88200"/><stop offset="0.885" stop-color="#c88c00"/><stop offset="1.000" stop-color="#c88d00"/></linearGradient><linearGradient id="g154" gradientUnits="userSpaceOnUse" x1="2" y1="0" x2="158" y2="0"><stop offset="0.000" stop-color="#c88d00"/><stop offset="0.205" stop-color="#c88700"/><stop offset="0.321" stop-color="#c87200"/><stop offset="0.442" stop-color="#c85000"/><stop offset="0.487" stop-color="#c85300"/><stop offset="0.500" stop-color="#c85800"/><stop offset="0.538" stop-color="#c85000"/><stop offset="0.596" stop-color="#c85a00"/><stop offset="0.724" stop-color="#c87d00"/><stop offset="0.846" stop-color="#c88b00"/><stop offset="1.000" stop-color="#c88d00"/></linearGradient><linearGradient id="g155" gradientUnits="userSpaceOnUse" x1="2" y1="0" x2="158" y2="0"><stop offset="0.000" stop-color="#c88d00"/><stop offset="0.199" stop-color="#c88700"/><stop offset="0.308" stop-color="#c87400"/><stop offset="0.397" stop-color="#c85400"/><stop offset="0.449" stop-color="#c84500"/><stop offset="0.494" stop-color="#c84900"/><stop offset="0.506" stop-color="#c84900"/><stop offset="0.551" stop-color="#c84700"/><stop offset="0.615" stop-color="#c85c00"/><stop offset="0.718" stop-color="#c87b00"/><stop offset="0.833" stop-color="#c88a00"/><stop offset="1.000" stop-color="#c88d00"/></linearGradient><linearGradient id="g156" gradientUnits="userSpaceOnUse" x1="2" y1="0" x2="158" y2="0"><stop offset="0.000" stop-color="#c88d00"/><stop offset="0.199" stop-color="#c88700"/><stop offset="0.308" stop-color="#c87200"/><stop offset="0.372" stop-color="#c85b00"/><stop offset="0.436" stop-color="#c83900"/><stop offset="0.481" stop-color="#c83500"/><stop offset="0.506" stop-color="#c83700"/><stop offset="0.545" stop-color="#c83600"/><stop offset="0.590" stop-color="#c84800"/><stop offset="0.647" stop-color="#c86700"/><stop offset="0.756" stop-color="#c88200"/><stop offset="0.897" stop-color="#c88c00"/><stop offset="1.000" stop-color="#c88d00"/></linearGradient><linearGradient id="g157" gradientUnits="userSpaceOnUse" x1="2" y1="0" x2="158" y2="0"><stop offset="0.000" stop-color="#c88d00"/><stop offset="0.199" stop-color="#c88600"/><stop offset="0.308" stop-color="#c87100"/><stop offset="0.359" stop-color="#c85e00"/><stop offset="0.429" stop-color="#c82700"/><stop offset="0.468" stop-color="#c81c00"/><stop offset="0.506" stop-color="#c81e00"/><stop offset="0.545" stop-color="#c81f00"/><stop offset="0.577" stop-color="#c82f00"/><stop offset="0.635" stop-color="#c85e00"/><stop offset="0.705" stop-color="#c87700"/><stop offset="0.814" stop-color="#c88800"/><stop offset="1.000" stop-color="#c88d00"/></linearGradient><linearGradient id="g158" gradientUnits="userSpaceOnUse" x1="2" y1="0" x2="158" y2="0"><stop offset="0.000" stop-color="#c88d00"/><stop offset="0.199" stop-color="#c88600"/><stop offset="0.301" stop-color="#c87200"/><stop offset="0.353" stop-color="#c85f00"/><stop offset="0.378" stop-color="#c84800"/><stop offset="0.423" stop-color="#c81100"/><stop offset="0.449" stop-color="#c80100"/><stop offset="0.545" stop-color="#c80100"/><stop offset="0.571" stop-color="#c81100"/><stop offset="0.628" stop-color="#c85500"/><stop offset="0.660" stop-color="#c86800"/><stop offset="0.763" stop-color="#c88200"/><stop offset="0.904" stop-color="#c88c00"/><stop offset="1.000" stop-color="#c88d00"/></linearGradient><linearGradient id="g159" gradientUnits="userSpaceOnUse" x1="2" y1="0" x2="158" y2="0"><stop offset="0.000" stop-color="#c88d00"/><stop offset="0.192" stop-color="#c88700"/><stop offset="0.295" stop-color="#c87400"/><stop offset="0.346" stop-color="#c86100"/><stop offset="0.365" stop-color="#c85000"/><stop offset="0.391" stop-color="#c82900"/><stop offset="0.410" stop-color="#c80700"/><stop offset="0.417" stop-color="#c80000"/><stop offset="0.577" stop-color="#c80000"/><stop offset="0.590" stop-color="#c81100"/><stop offset="0.622" stop-color="#c84800"/><stop offset="0.641" stop-color="#c85d00"/><stop offset="0.686" stop-color="#c87000"/><stop offset="0.788" stop-color="#c88500"/><stop offset="0.968" stop-color="#c88d00"/><stop offset="1.000" stop-color="#c88d00"/></linearGradient><linearGradient id="g160" gradientUnits="userSpaceOnUse" x1="2" y1="0" x2="158" y2="0"><stop offset="0.000" stop-color="#c88c00"/><stop offset="0.192" stop-color="#c88600"/><stop offset="0.295" stop-color="#c87300"/><stop offset="0.346" stop-color="#c86000"/><stop offset="0.365" stop-color="#c84c00"/><stop offset="0.385" stop-color="#c82900"/><stop offset="0.404" stop-color="#c80000"/><stop offset="0.590" stop-color="#c80000"/><stop offset="0.622" stop-color="#c84200"/><stop offset="0.641" stop-color="#c85b00"/><stop offset="0.673" stop-color="#c86c00"/><stop offset="0.776" stop-color="#c88300"/><stop offset="0.929" stop-color="#c88c00"/><stop offset="1.000" stop-color="#c88d00"/></linearGradient><linearGradient id="g161" gradientUnits="userSpaceOnUse" x1="2" y1="0" x2="158" y2="0"><stop offset="0.000" stop-color="#c88c00"/><stop offset="0.192" stop-color="#c88600"/><stop offset="0.295" stop-color="#c87300"/><stop offset="0.346" stop-color="#c85f00"/><stop offset="0.365" stop-color="#c84a00"/><stop offset="0.385" stop-color="#c82300"/><stop offset="0.397" stop-color="#c80300"/><stop offset="0.417" stop-color="#c80000"/><stop offset="0.590" stop-color="#c80000"/><stop offset="0.596" stop-color="#c80300"/><stop offset="0.622" stop-color="#c83f00"/><stop offset="0.641" stop-color="#c85a00"/><stop offset="0.673" stop-color="#c86c00"/><stop offset="0.776" stop-color="#c88300"/><stop offset="0.929" stop-color="#c88c00"/><stop offset="1.000" stop-color="#c88c00"/></linearGradient><clipPath id="trap"><polygon points="64.9,31.7 94.9,31.7 155.0,406.5 5.5,406.5"/></clipPath><filter id="bl" x="-5%" y="-5%" width="110%" height="110%"><feGaussianBlur stdDeviation="0.9"/></filter></defs><g clip-path="url(#trap)"><g filter="url(#bl)"><rect x="0" y="30" width="160" height="2.5" fill="#c80000"/><rect x="0" y="32" width="160" height="2.5" fill="#c80000"/><rect x="0" y="34" width="160" height="2.5" fill="#c80000"/><rect x="0" y="36" width="160" height="2.5" fill="#c80000"/><rect x="0" y="38" width="160" height="2.5" fill="#c80000"/><rect x="0" y="40" width="160" height="2.5" fill="#c80000"/><rect x="0" y="42" width="160" height="2.5" fill="#c80000"/><rect x="0" y="44" width="160" height="2.5" fill="#c80000"/><rect x="0" y="46" width="160" height="2.5" fill="#c80000"/><rect x="0" y="48" width="160" height="2.5" fill="#c80000"/><rect x="0" y="50" width="160" height="2.5" fill="#c80100"/><rect x="0" y="52" width="160" height="2.5" fill="#c80200"/><rect x="0" y="54" width="160" height="2.5" fill="#c80300"/><rect x="0" y="56" width="160" height="2.5" fill="#c80400"/><rect x="0" y="58" width="160" height="2.5" fill="#c80500"/><rect x="0" y="60" width="160" height="2.5" fill="#c80600"/><rect x="0" y="62" width="160" height="2.5" fill="#c80700"/><rect x="0" y="64" width="160" height="2.5" fill="#c80800"/><rect x="0" y="66" width="160" height="2.5" fill="#c80b00"/><rect x="0" y="68" width="160" height="2.5" fill="#c80d00"/><rect x="0" y="70" width="160" height="2.5" fill="#c81000"/><rect x="0" y="72" width="160" height="2.5" fill="#c81300"/><rect x="0" y="74" width="160" height="2.5" fill="#c81500"/><rect x="0" y="76" width="160" height="2.5" fill="#c81800"/><rect x="0" y="78" width="160" height="2.5" fill="#c81b00"/><rect x="0" y="80" width="160" height="2.5" fill="#c81f00"/><rect x="0" y="82" width="160" height="2.5" fill="#c82300"/><rect x="0" y="84" width="160" height="2.5" fill="#c82800"/><rect x="0" y="86" width="160" height="2.5" fill="#c82c00"/><rect x="0" y="88" width="160" height="2.5" fill="#c83100"/><rect x="0" y="90" width="160" height="2.5" fill="#c83600"/><rect x="0" y="92" width="160" height="2.5" fill="#c83b00"/><rect x="0" y="94" width="160" height="2.5" fill="url(#g0)"/><rect x="0" y="96" width="160" height="2.5" fill="url(#g1)"/><rect x="0" y="98" width="160" height="2.5" fill="url(#g2)"/><rect x="0" y="100" width="160" height="2.5" fill="url(#g3)"/><rect x="0" y="102" width="160" height="2.5" fill="url(#g4)"/><rect x="0" y="104" width="160" height="2.5" fill="url(#g5)"/><rect x="0" y="106" width="160" height="2.5" fill="url(#g6)"/><rect x="0" y="108" width="160" height="2.5" fill="url(#g7)"/><rect x="0" y="110" width="160" height="2.5" fill="url(#g8)"/><rect x="0" y="112" width="160" height="2.5" fill="url(#g9)"/><rect x="0" y="114" width="160" height="2.5" fill="url(#g10)"/><rect x="0" y="116" width="160" height="2.5" fill="url(#g11)"/><rect x="0" y="118" width="160" height="2.5" fill="url(#g12)"/><rect x="0" y="120" width="160" height="2.5" fill="url(#g13)"/><rect x="0" y="122" width="160" height="2.5" fill="url(#g14)"/><rect x="0" y="124" width="160" height="2.5" fill="url(#g15)"/><rect x="0" y="126" width="160" height="2.5" fill="url(#g16)"/><rect x="0" y="128" width="160" height="2.5" fill="url(#g17)"/><rect x="0" y="130" width="160" height="2.5" fill="url(#g18)"/><rect x="0" y="132" width="160" height="2.5" fill="url(#g19)"/><rect x="0" y="134" width="160" height="2.5" fill="url(#g20)"/><rect x="0" y="136" width="160" height="2.5" fill="url(#g21)"/><rect x="0" y="138" width="160" height="2.5" fill="url(#g22)"/><rect x="0" y="140" width="160" height="2.5" fill="url(#g23)"/><rect x="0" y="142" width="160" height="2.5" fill="url(#g24)"/><rect x="0" y="144" width="160" height="2.5" fill="url(#g25)"/><rect x="0" y="146" width="160" height="2.5" fill="url(#g26)"/><rect x="0" y="148" width="160" height="2.5" fill="url(#g27)"/><rect x="0" y="150" width="160" height="2.5" fill="url(#g28)"/><rect x="0" y="152" width="160" height="2.5" fill="url(#g29)"/><rect x="0" y="154" width="160" height="2.5" fill="url(#g30)"/><rect x="0" y="156" width="160" height="2.5" fill="url(#g31)"/><rect x="0" y="158" width="160" height="2.5" fill="url(#g32)"/><rect x="0" y="160" width="160" height="2.5" fill="url(#g33)"/><rect x="0" y="162" width="160" height="2.5" fill="url(#g34)"/><rect x="0" y="164" width="160" height="2.5" fill="url(#g35)"/><rect x="0" y="166" width="160" height="2.5" fill="url(#g36)"/><rect x="0" y="168" width="160" height="2.5" fill="url(#g37)"/><rect x="0" y="170" width="160" height="2.5" fill="url(#g38)"/><rect x="0" y="172" width="160" height="2.5" fill="url(#g39)"/><rect x="0" y="174" width="160" height="2.5" fill="url(#g40)"/><rect x="0" y="176" width="160" height="2.5" fill="url(#g41)"/><rect x="0" y="178" width="160" height="2.5" fill="url(#g42)"/><rect x="0" y="180" width="160" height="2.5" fill="url(#g43)"/><rect x="0" y="182" width="160" height="2.5" fill="url(#g44)"/><rect x="0" y="184" width="160" height="2.5" fill="url(#g45)"/><rect x="0" y="186" width="160" height="2.5" fill="url(#g46)"/><rect x="0" y="188" width="160" height="2.5" fill="url(#g47)"/><rect x="0" y="190" width="160" height="2.5" fill="url(#g48)"/><rect x="0" y="192" width="160" height="2.5" fill="url(#g49)"/><rect x="0" y="194" width="160" height="2.5" fill="url(#g50)"/><rect x="0" y="196" width="160" height="2.5" fill="#1cc800"/><rect x="0" y="198" width="160" height="2.5" fill="url(#g51)"/><rect x="0" y="200" width="160" height="2.5" fill="url(#g52)"/><rect x="0" y="202" width="160" height="2.5" fill="url(#g53)"/><rect x="0" y="204" width="160" height="2.5" fill="url(#g54)"/><rect x="0" y="206" width="160" height="1.5" fill="url(#g55)"/><rect x="0" y="207" width="160" height="1.5" fill="url(#g56)"/><rect x="0" y="208" width="160" height="1.5" fill="url(#g57)"/><rect x="0" y="209" width="160" height="1.5" fill="url(#g58)"/><rect x="0" y="210" width="160" height="1.5" fill="url(#g59)"/><rect x="0" y="211" width="160" height="1.5" fill="url(#g60)"/><rect x="0" y="212" width="160" height="1.5" fill="url(#g61)"/><rect x="0" y="213" width="160" height="1.5" fill="url(#g62)"/><rect x="0" y="214" width="160" height="1.5" fill="url(#g63)"/><rect x="0" y="215" width="160" height="1.5" fill="url(#g64)"/><rect x="0" y="216" width="160" height="1.5" fill="url(#g65)"/><rect x="0" y="217" width="160" height="1.5" fill="url(#g66)"/><rect x="0" y="218" width="160" height="1.5" fill="url(#g67)"/><rect x="0" y="219" width="160" height="1.5" fill="url(#g68)"/><rect x="0" y="220" width="160" height="1.5" fill="url(#g69)"/><rect x="0" y="221" width="160" height="1.5" fill="url(#g70)"/><rect x="0" y="222" width="160" height="1.5" fill="url(#g71)"/><rect x="0" y="223" width="160" height="1.5" fill="url(#g72)"/><rect x="0" y="224" width="160" height="1.5" fill="url(#g73)"/><rect x="0" y="225" width="160" height="1.5" fill="url(#g74)"/><rect x="0" y="226" width="160" height="2.5" fill="url(#g75)"/><rect x="0" y="228" width="160" height="2.5" fill="url(#g76)"/><rect x="0" y="230" width="160" height="2.5" fill="url(#g77)"/><rect x="0" y="232" width="160" height="2.5" fill="url(#g78)"/><rect x="0" y="234" width="160" height="2.5" fill="url(#g79)"/><rect x="0" y="236" width="160" height="2.5" fill="url(#g80)"/><rect x="0" y="238" width="160" height="2.5" fill="url(#g81)"/><rect x="0" y="240" width="160" height="2.5" fill="url(#g82)"/><rect x="0" y="242" width="160" height="2.5" fill="url(#g83)"/><rect x="0" y="244" width="160" height="2.5" fill="url(#g84)"/><rect x="0" y="246" width="160" height="2.5" fill="url(#g85)"/><rect x="0" y="248" width="160" height="2.5" fill="url(#g86)"/><rect x="0" y="250" width="160" height="2.5" fill="url(#g87)"/><rect x="0" y="252" width="160" height="2.5" fill="url(#g88)"/><rect x="0" y="254" width="160" height="2.5" fill="url(#g89)"/><rect x="0" y="256" width="160" height="2.5" fill="url(#g90)"/><rect x="0" y="258" width="160" height="2.5" fill="url(#g91)"/><rect x="0" y="260" width="160" height="2.5" fill="url(#g92)"/><rect x="0" y="262" width="160" height="2.5" fill="url(#g93)"/><rect x="0" y="264" width="160" height="2.5" fill="url(#g94)"/><rect x="0" y="266" width="160" height="2.5" fill="url(#g95)"/><rect x="0" y="268" width="160" height="2.5" fill="url(#g96)"/><rect x="0" y="270" width="160" height="2.5" fill="url(#g97)"/><rect x="0" y="272" width="160" height="2.5" fill="url(#g98)"/><rect x="0" y="274" width="160" height="2.5" fill="url(#g99)"/><rect x="0" y="276" width="160" height="2.5" fill="url(#g100)"/><rect x="0" y="278" width="160" height="2.5" fill="#7ac800"/><rect x="0" y="280" width="160" height="2.5" fill="#7fc800"/><rect x="0" y="282" width="160" height="2.5" fill="#83c800"/><rect x="0" y="284" width="160" height="2.5" fill="#88c800"/><rect x="0" y="286" width="160" height="2.5" fill="#8bc800"/><rect x="0" y="288" width="160" height="2.5" fill="#8fc800"/><rect x="0" y="290" width="160" height="2.5" fill="#92c800"/><rect x="0" y="292" width="160" height="2.5" fill="#96c800"/><rect x="0" y="294" width="160" height="2.5" fill="#9ac800"/><rect x="0" y="296" width="160" height="2.5" fill="#9dc800"/><rect x="0" y="298" width="160" height="2.5" fill="url(#g101)"/><rect x="0" y="300" width="160" height="2.5" fill="url(#g102)"/><rect x="0" y="302" width="160" height="2.5" fill="url(#g103)"/><rect x="0" y="304" width="160" height="2.5" fill="url(#g104)"/><rect x="0" y="306" width="160" height="2.5" fill="url(#g105)"/><rect x="0" y="308" width="160" height="2.5" fill="url(#g106)"/><rect x="0" y="310" width="160" height="2.5" fill="url(#g107)"/><rect x="0" y="312" width="160" height="2.5" fill="url(#g108)"/><rect x="0" y="314" width="160" height="2.5" fill="url(#g109)"/><rect x="0" y="316" width="160" height="2.5" fill="url(#g110)"/><rect x="0" y="318" width="160" height="2.5" fill="url(#g111)"/><rect x="0" y="320" width="160" height="2.5" fill="url(#g112)"/><rect x="0" y="322" width="160" height="2.5" fill="url(#g113)"/><rect x="0" y="324" width="160" height="2.5" fill="url(#g114)"/><rect x="0" y="326" width="160" height="2.5" fill="url(#g115)"/><rect x="0" y="328" width="160" height="2.5" fill="url(#g116)"/><rect x="0" y="330" width="160" height="2.5" fill="url(#g117)"/><rect x="0" y="332" width="160" height="2.5" fill="url(#g118)"/><rect x="0" y="334" width="160" height="2.5" fill="url(#g119)"/><rect x="0" y="336" width="160" height="2.5" fill="url(#g120)"/><rect x="0" y="338" width="160" height="2.5" fill="url(#g121)"/><rect x="0" y="340" width="160" height="2.5" fill="url(#g122)"/><rect x="0" y="342" width="160" height="2.5" fill="url(#g123)"/><rect x="0" y="344" width="160" height="2.5" fill="url(#g124)"/><rect x="0" y="346" width="160" height="2.5" fill="url(#g125)"/><rect x="0" y="348" width="160" height="2.5" fill="url(#g126)"/><rect x="0" y="350" width="160" height="2.5" fill="url(#g127)"/><rect x="0" y="352" width="160" height="2.5" fill="url(#g128)"/><rect x="0" y="354" width="160" height="2.5" fill="url(#g129)"/><rect x="0" y="356" width="160" height="2.5" fill="url(#g130)"/><rect x="0" y="358" width="160" height="2.5" fill="url(#g131)"/><rect x="0" y="360" width="160" height="2.5" fill="url(#g132)"/><rect x="0" y="362" width="160" height="2.5" fill="url(#g133)"/><rect x="0" y="364" width="160" height="2.5" fill="url(#g134)"/><rect x="0" y="366" width="160" height="2.5" fill="url(#g135)"/><rect x="0" y="368" width="160" height="2.5" fill="url(#g136)"/><rect x="0" y="370" width="160" height="2.5" fill="url(#g137)"/><rect x="0" y="372" width="160" height="2.5" fill="url(#g138)"/><rect x="0" y="374" width="160" height="2.5" fill="url(#g139)"/><rect x="0" y="376" width="160" height="2.5" fill="url(#g140)"/><rect x="0" y="378" width="160" height="2.5" fill="url(#g141)"/><rect x="0" y="380" width="160" height="2.5" fill="url(#g142)"/><rect x="0" y="382" width="160" height="2.5" fill="url(#g143)"/><rect x="0" y="384" width="160" height="2.5" fill="url(#g144)"/><rect x="0" y="386" width="160" height="2.5" fill="url(#g145)"/><rect x="0" y="388" width="160" height="2.5" fill="url(#g146)"/><rect x="0" y="390" width="160" height="2.5" fill="url(#g147)"/><rect x="0" y="392" width="160" height="2.5" fill="url(#g148)"/><rect x="0" y="394" width="160" height="2.5" fill="url(#g149)"/><rect x="0" y="396" width="160" height="1.5" fill="url(#g150)"/><rect x="0" y="397" width="160" height="1.5" fill="url(#g151)"/><rect x="0" y="398" width="160" height="1.5" fill="url(#g152)"/><rect x="0" y="399" width="160" height="1.5" fill="url(#g153)"/><rect x="0" y="400" width="160" height="1.5" fill="url(#g154)"/><rect x="0" y="401" width="160" height="1.5" fill="url(#g155)"/><rect x="0" y="402" width="160" height="1.5" fill="url(#g156)"/><rect x="0" y="403" width="160" height="1.5" fill="url(#g157)"/><rect x="0" y="404" width="160" height="1.5" fill="url(#g158)"/><rect x="0" y="405" width="160" height="1.5" fill="url(#g159)"/><rect x="0" y="406" width="160" height="1.5" fill="url(#g160)"/><rect x="0" y="407" width="160" height="1.5" fill="url(#g161)"/></g></g>
<!-- colorbar -->
<defs><linearGradient id="cbg" x1="0" y1="1" x2="0" y2="0"><stop offset="0.00" stop-color="#0000ff"/><stop offset="0.08" stop-color="#0055ff"/><stop offset="0.17" stop-color="#00aaff"/><stop offset="0.25" stop-color="#00ffff"/><stop offset="0.33" stop-color="#00ffaa"/><stop offset="0.42" stop-color="#00ff55"/><stop offset="0.50" stop-color="#00ff00"/><stop offset="0.58" stop-color="#55ff00"/><stop offset="0.67" stop-color="#aaff00"/><stop offset="0.75" stop-color="#ffff00"/><stop offset="0.83" stop-color="#ffaa00"/><stop offset="0.92" stop-color="#ff5500"/><stop offset="1.00" stop-color="#ff0000"/></linearGradient></defs>
<rect x="251.2" y="149" width="10.3" height="137.5" fill="url(#cbg)"/>
<g stroke="#5a5a5a" stroke-width="1" stroke-opacity="0.85">
<line x1="244.4" y1="148.8" x2="255" y2="148.8"/>
<line x1="244.4" y1="170.8" x2="255" y2="170.8"/>
<line x1="244.4" y1="192.6" x2="255" y2="192.6"/>
<line x1="244.4" y1="214.5" x2="255" y2="214.5"/>
<line x1="244.4" y1="236.8" x2="255" y2="236.8"/>
<line x1="244.4" y1="258.8" x2="255" y2="258.8"/>
<line x1="244.4" y1="286.2" x2="255" y2="286.2"/>
</g>
<g class="s" font-weight="bold" font-size="14.6" fill="#000">
<text x="197" y="152.6" textLength="36.8" lengthAdjust="spacingAndGlyphs">0.780</text>
<text x="197" y="174.6" textLength="36.8" lengthAdjust="spacingAndGlyphs">0.775</text>
<text x="197" y="196.6" textLength="36.8" lengthAdjust="spacingAndGlyphs">0.770</text>
<text x="197" y="218.6" textLength="36.8" lengthAdjust="spacingAndGlyphs">0.765</text>
<text x="197" y="240.6" textLength="36.8" lengthAdjust="spacingAndGlyphs">0.760</text>
<text x="197" y="262.6" textLength="36.8" lengthAdjust="spacingAndGlyphs">0.755</text>
<text x="197" y="290.5" textLength="36.8" lengthAdjust="spacingAndGlyphs">0.749</text>
</g>
<text class="s" font-weight="bold" font-size="14.4" fill="#000" transform="translate(190.2,293.9) rotate(-90)" textLength="151.5" lengthAdjust="spacingAndGlyphs">Electric Potential (V)</text>

<!-- band plot -->
<g class="s" font-size="10" fill="#2a2a2a" stroke="#2a2a2a" stroke-width="0.15">
<text x="296.2" y="14">Conduction Band</text>
<text x="416.5" y="14">Valence Band</text>
</g>
<g fill="none" stroke="#6c6c6c" stroke-width="1.3" stroke-linejoin="round">
<rect x="277.6" y="26.5" width="229.7" height="329"/>
</g>
<line x1="398.5" y1="26.5" x2="398.5" y2="355.5" stroke="#333" stroke-width="1.2"/>
<g stroke="#6c6c6c" stroke-width="1">
<path d="M288.4 26.7v3.5M310.9 26.7v3.5M333.4 26.7v3.5M355.3 26.7v3.5M377.6 26.7v3.5M413.2 26.7v3.5M442 26.7v3.5M471 26.7v3.5M499.7 26.7v3.5"/>
<path d="M288.4 355.5v-3.4M310.9 355.5v-3.4M333.4 355.5v-3.4M355.3 355.5v-3.4M377.6 355.5v-3.4M413.2 355.5v-3.4M442 355.5v-3.4M471 355.5v-3.4M499.7 355.5v-3.4"/>
<path d="M507.3 92.4h-3.5M507.3 158.3h-3.5M507.3 224.2h-3.5M507.3 290.2h-3.5"/>
</g>
<!-- curves -->
<g fill="none" stroke="#2fb48c" stroke-width="1.6" stroke-linejoin="round">
<path d="M342.0 26.7C341.2 28.0 338.7 32.1 337.5 34.5C336.3 36.9 335.3 38.6 334.6 41.0C333.9 43.4 333.7 45.8 333.5 49.0C333.3 52.2 333.2 53.3 333.2 60.0C333.1 66.7 333.3 79.3 333.2 89.0C333.1 98.7 333.1 108.7 332.7 118.0C332.3 127.3 331.5 138.0 330.6 145.0C329.7 152.0 328.6 155.1 327.5 160.0C326.4 164.9 325.1 171.0 324.2 174.5C323.3 178.0 322.4 179.3 322.0 181.0C321.6 182.7 321.5 183.5 321.6 184.5C321.7 185.5 322.0 186.6 322.6 187.2C323.2 187.8 325.0 187.9 325.5 188.1L392.4 188.1L379.6 195.3L309.2 195.6"/>
<path d="M309.2 195.6C310.1 195.9 312.8 196.8 314.5 197.6C316.2 198.4 317.8 199.4 319.4 200.6C321.0 201.8 322.8 203.3 324.2 205.0C325.6 206.7 326.6 208.3 327.5 210.5C328.4 212.7 328.9 214.9 329.5 218.0C330.1 221.1 330.6 224.8 331.2 229.0C331.8 233.2 332.4 237.6 333.2 243.0C334.0 248.4 335.1 255.6 336.0 261.4C336.9 267.2 337.8 272.8 338.5 278.0C339.2 283.2 339.8 285.1 340.5 292.8C341.2 300.5 342.2 315.3 342.7 324.0C343.2 332.7 343.4 339.7 343.5 345.0C343.6 350.3 343.6 353.9 343.6 355.7"/>
<path d="M480.3 26.7C479.9 27.9 478.4 31.6 477.6 34.0C476.8 36.4 475.9 38.0 475.4 41.0C474.9 44.0 474.6 47.2 474.4 52.0C474.2 56.8 474.3 62.0 474.2 70.0C474.1 78.0 473.9 90.8 473.9 100.0C473.8 109.2 474.0 118.3 473.9 125.0C473.8 131.7 473.6 135.2 473.3 140.0C473.0 144.8 472.4 149.5 471.8 153.7C471.2 157.9 470.5 161.4 469.8 165.0C469.1 168.6 468.1 172.7 467.5 175.5C466.9 178.3 466.6 180.2 466.5 182.0C466.4 183.8 466.7 185.5 466.8 186.5C466.9 187.5 467.2 187.8 467.3 188.0L427.2 188.0"/>
<path d="M427.2 188.0C426.8 188.3 425.4 188.9 424.5 189.6C423.6 190.3 422.5 191.1 421.5 192.0C420.5 192.9 418.8 194.7 418.3 195.2L458.0 195.2C458.6 195.4 460.4 195.6 461.5 196.3C462.6 197.0 463.6 198.4 464.5 199.4C465.4 200.4 466.3 201.5 467.0 202.6C467.7 203.7 468.2 204.7 468.8 205.8C469.4 207.0 469.9 208.3 470.3 209.5C470.7 210.7 470.9 211.0 471.2 213.0C471.5 215.0 472.0 218.3 472.4 221.5C472.8 224.7 473.2 227.7 473.6 232.4C474.0 237.2 474.3 243.3 474.6 250.0C474.9 256.7 475.2 265.4 475.6 272.6C476.1 279.8 476.8 286.1 477.3 293.0C477.9 299.9 478.4 307.0 478.9 314.0C479.4 321.0 479.9 328.0 480.3 335.0C480.7 342.0 480.9 352.4 481.0 355.9"/>
</g>
<!-- carriers in wells -->
<circle cx="380.9" cy="190.4" r="2.7" fill="#6e9bd6"/>
<circle cx="424.5" cy="192.5" r="2.5" fill="#eea300" stroke="#c98c10" stroke-width="0.5"/>
<!-- arrow -->
<line x1="392" y1="191.7" x2="415" y2="191.7" stroke="#333" stroke-width="0.9"/>
<path d="M388.4 191.7l6.6-2.1v4.2z" fill="#000"/>
<path d="M419.4 191.6l-6.4-2.1v4.2z" fill="#000"/>
<!-- legend circles -->
<circle cx="300.4" cy="50.1" r="10.3" fill="#6e9bd6"/>
<text class="sf" x="299.4" y="53.8" font-size="13.6" text-anchor="middle" fill="#1a1a1a" stroke="#1a1a1a" stroke-width="0.35">e-</text>
<circle cx="300.5" cy="80.7" r="10" fill="#eea300" stroke="#c89020" stroke-width="0.6"/>
<text class="sf" x="302.5" y="82.8" font-size="13.4" text-anchor="middle" fill="#1a1a1a" stroke="#1a1a1a" stroke-width="0.3">h+</text>
<!-- axis labels -->
<g class="s" font-size="11.9" fill="#1a1a1a" stroke="#1a1a1a" stroke-width="0.25" text-anchor="middle">
<text x="520" y="29.6">500</text>
<text x="519.9" y="95.6">400</text>
<text x="519.9" y="161.6">300</text>
<text x="520.1" y="227.3">200</text>
<text x="520.2" y="293.4">100</text>
<text x="519.5" y="358.4">0</text>
</g>
<text class="s" x="510.4" y="193.5" font-size="12.6" fill="#1a1a1a" stroke="#1a1a1a" stroke-width="0.25">z (nm)</text>
<g class="s" font-size="10.2" fill="#1a1a1a" stroke="#1a1a1a" stroke-width="0.25" text-anchor="middle">
<text x="289.4" y="376.1">0.06</text>
<text x="312.8" y="376.1">0.04</text>
<text x="336.0" y="376.1">0.02</text>
<text x="355.3" y="376.1">0</text>
<text x="377.6" y="376.1">&#8722;0.02</text>
<text x="413.5" y="376.1">&#8722;1.52</text>
<text x="441.9" y="376.1">&#8722;1.56</text>
<text x="472.3" y="376.1">&#8722;1.6</text>
<text x="500.8" y="376.1">&#8722;1.64</text>
</g>
<text class="s" x="369.7" y="404.3" font-size="12.8" fill="#1a1a1a" stroke="#1a1a1a" stroke-width="0.2">Energy (eV)</text>
<text class="s" x="453.6" y="395.2" font-size="10.2" fill="#1a1a1a" stroke="#1a1a1a" stroke-width="0.2">h = 11.2 nm</text>
</svg>
</body></html>
